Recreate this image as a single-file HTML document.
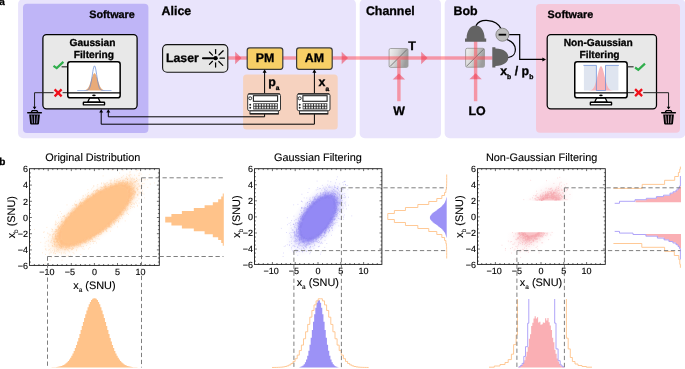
<!DOCTYPE html>
<html><head><meta charset="utf-8"><title>Figure</title><style>html,body{margin:0;padding:0;background:#fff;overflow:hidden}svg{display:block}</style></head><body>
<svg width="685" height="369" viewBox="0 0 685 369" font-family="Liberation Sans, Arial, Helvetica, sans-serif" text-rendering="geometricPrecision">
<defs>
<linearGradient id="bsg" x1="0" y1="0" x2="1" y2="0.3"><stop offset="0" stop-color="#f2f2f2"/><stop offset="0.45" stop-color="#d6d6d6"/><stop offset="1" stop-color="#9c9c9c"/></linearGradient>
</defs>
<rect width="685" height="369" fill="#fff"/>
<rect x="18.10" y="-1.00" width="337.80" height="139.30" rx="5" ry="5" fill="#e9e4fc" />
<rect x="359.70" y="-1.00" width="81.30" height="139.30" rx="5" ry="5" fill="#e9e4fc" />
<rect x="444.70" y="-1.00" width="240.60" height="139.30" rx="5" ry="5" fill="#e9e4fc" />
<rect x="23.00" y="3.80" width="125.40" height="129.10" rx="4" ry="4" fill="#bfb5f7" />
<rect x="536.00" y="3.90" width="144.00" height="128.90" rx="4" ry="4" fill="#f5c8da" />
<rect x="243.10" y="74.50" width="94.60" height="55.10" rx="3.5" ry="3.5" fill="#f6d2bf" />
<text x="-0.80" y="5.30" font-size="10" font-weight="bold" stroke="#000" stroke-width="0.3" text-anchor="start" fill="#000" >a</text>
<text x="-0.80" y="165.00" font-size="10" font-weight="bold" stroke="#000" stroke-width="0.3" text-anchor="start" fill="#000" >b</text>
<text x="161.60" y="15.40" font-size="12.4" font-weight="bold" stroke="#000" stroke-width="0.3" text-anchor="start" fill="#000" >Alice</text>
<text x="365.90" y="15.40" font-size="12.4" font-weight="bold" stroke="#000" stroke-width="0.3" text-anchor="start" fill="#000" >Channel</text>
<text x="453.60" y="15.40" font-size="12.4" font-weight="bold" stroke="#000" stroke-width="0.3" text-anchor="start" fill="#000" >Bob</text>
<text x="89.20" y="18.20" font-size="10.8" font-weight="bold" stroke="#000" stroke-width="0.3" text-anchor="start" fill="#000" >Software</text>
<text x="547.60" y="18.00" font-size="10.8" font-weight="bold" stroke="#000" stroke-width="0.3" text-anchor="start" fill="#000" >Software</text>
<rect x="389.1" y="48.5" width="18.9" height="18.9" rx="1.6" fill="url(#bsg)" stroke="#9c9c9c" stroke-width="0.9"/>
<line x1="390.0" y1="66.5" x2="407.1" y2="49.4" stroke="#666" stroke-width="0.8"/>
<rect x="465.6" y="48.3" width="18.9" height="18.9" rx="1.6" fill="url(#bsg)" stroke="#9c9c9c" stroke-width="0.9"/>
<line x1="466.5" y1="66.29999999999998" x2="483.6" y2="49.199999999999996" stroke="#666" stroke-width="0.8"/>
<rect x="227.9" y="56.3" width="264.6" height="3.4" fill="#ff4650" fill-opacity="0.5"/>
<path d="M235.2,51.8 L241.5,58.0 L235.2,64.2 Z" fill="#f03246" fill-opacity="0.52"/>
<path d="M341.7,51.8 L348.0,58.0 L341.7,64.2 Z" fill="#f03246" fill-opacity="0.52"/>
<path d="M421.2,51.8 L427.5,58.0 L421.2,64.2 Z" fill="#f03246" fill-opacity="0.52"/>
<rect x="397.2" y="59.7" width="3.4" height="41.5" fill="#ff4650" fill-opacity="0.5"/>
<path d="M392.7,79.4 L398.9,73.5 L405.09999999999997,79.4 Z" fill="#f03246" fill-opacity="0.52"/>
<rect x="473.90000000000003" y="41" width="3.4" height="15.299999999999997" fill="#ff4650" fill-opacity="0.5"/>
<rect x="473.90000000000003" y="59.7" width="3.4" height="41.5" fill="#ff4650" fill-opacity="0.5"/>
<path d="M469.40000000000003,79.2 L475.6,73.3 L481.8,79.2 Z" fill="#f03246" fill-opacity="0.52"/>
<rect x="42.90" y="34.70" width="94.20" height="74.10" rx="3.5" ry="3.5" fill="#e8e8e8" stroke="#000" stroke-width="1.25" />
<rect x="547.20" y="34.70" width="109.30" height="74.10" rx="3.5" ry="3.5" fill="#e8e8e8" stroke="#000" stroke-width="1.25" />
<rect x="162.60" y="44.60" width="65.20" height="27.70" rx="4.5" ry="4.5" fill="#e6e6e6" stroke="#111" stroke-width="1.1" />
<text x="166.00" y="62.20" font-size="12.3" font-weight="bold" stroke="#000" stroke-width="0.3" text-anchor="start" fill="#000" >Laser</text>
<g stroke="#000" stroke-linecap="round" fill="none">
<line x1="203.0" y1="58.2" x2="215.6" y2="58.2" stroke-width="2.1"/>
<line x1="220.00" y1="58.20" x2="224.40" y2="58.20" stroke-width="1.25"/>
<line x1="218.85" y1="54.95" x2="223.10" y2="50.70" stroke-width="1.25"/>
<line x1="215.60" y1="53.60" x2="215.60" y2="49.50" stroke-width="1.25"/>
<line x1="212.49" y1="55.09" x2="209.45" y2="52.05" stroke-width="1.25"/>
<line x1="218.85" y1="61.45" x2="222.74" y2="65.34" stroke-width="1.25"/>
<line x1="215.60" y1="62.80" x2="215.60" y2="67.10" stroke-width="1.25"/>
<line x1="212.49" y1="61.31" x2="209.45" y2="64.35" stroke-width="1.25"/>
</g>
<circle cx="215.6" cy="58.2" r="2.15" fill="#000"/>
<rect x="247.20" y="47.90" width="35.60" height="21.40" rx="2.5" ry="2.5" fill="#f7cf66" stroke="#3a3a3a" stroke-width="1.2" />
<rect x="296.60" y="47.90" width="35.60" height="21.40" rx="2.5" ry="2.5" fill="#f7cf66" stroke="#3a3a3a" stroke-width="1.2" />
<text x="265.00" y="62.30" font-size="12.4" font-weight="bold" stroke="#000" stroke-width="0.3" text-anchor="middle" fill="#000" >PM</text>
<text x="314.40" y="62.30" font-size="12.4" font-weight="bold" stroke="#000" stroke-width="0.3" text-anchor="middle" fill="#000" >AM</text>
<line x1="264.6" y1="93.4" x2="264.6" y2="71.3" stroke="#000" stroke-width="1"/>
<path d="M262.6,72.7 L264.6,69.3 L266.6,72.7 Z" fill="#000"/>
<line x1="314.4" y1="93.4" x2="314.4" y2="71.3" stroke="#000" stroke-width="1"/>
<path d="M312.4,72.7 L314.4,69.3 L316.4,72.7 Z" fill="#000"/>
<text x="268.2" y="86.3" font-size="12.4" font-weight="bold" stroke="#000" stroke-width="0.3">p<tspan font-size="6.6" dy="4.1">a</tspan></text>
<text x="318.6" y="86.4" font-size="12.4" font-weight="bold" stroke="#000" stroke-width="0.3">x<tspan font-size="6.6" dy="4.1">a</tspan></text>
<g transform="translate(247.2,93.4)">
<path d="M2.8,17.4 L31.2,17.4 L31.2,20.3 L2.8,20.3 Z" fill="#fff" stroke="#222" stroke-width="0.9"/>
<line x1="2.4" y1="20.5" x2="31.6" y2="20.5" stroke="#111" stroke-width="1.2"/>
<rect x="0.5" y="0.5" width="32.8" height="16.8" rx="1.6" fill="#fff" stroke="#333" stroke-width="1"/>
<line x1="1.2" y1="0.5" x2="32.6" y2="0.5" stroke="#222" stroke-width="1.1"/>
<rect x="6.2" y="2.3" width="24.2" height="5.6" fill="#fff" stroke="#222" stroke-width="1.1"/>
<circle cx="3.0" cy="4.9" r="1.5" fill="#fff" stroke="#222" stroke-width="0.9"/>
<rect x="6" y="9.9" width="24.6" height="6.1" fill="#2a2a2a"/>
<rect x="6.55" y="10.50" width="1.75" height="1.9" fill="#e4e4e4"/>
<rect x="9.23" y="10.50" width="1.75" height="1.9" fill="#e4e4e4"/>
<rect x="11.91" y="10.50" width="1.75" height="1.9" fill="#e4e4e4"/>
<rect x="14.59" y="10.50" width="1.75" height="1.9" fill="#e4e4e4"/>
<rect x="17.27" y="10.50" width="1.75" height="1.9" fill="#e4e4e4"/>
<rect x="19.95" y="10.50" width="1.75" height="1.9" fill="#e4e4e4"/>
<rect x="22.63" y="10.50" width="1.75" height="1.9" fill="#e4e4e4"/>
<rect x="25.31" y="10.50" width="1.75" height="1.9" fill="#e4e4e4"/>
<rect x="27.99" y="10.50" width="1.75" height="1.9" fill="#e4e4e4"/>
<rect x="6.55" y="13.25" width="1.75" height="1.9" fill="#e4e4e4"/>
<rect x="9.23" y="13.25" width="1.75" height="1.9" fill="#e4e4e4"/>
<rect x="11.91" y="13.25" width="1.75" height="1.9" fill="#e4e4e4"/>
<rect x="14.59" y="13.25" width="1.75" height="1.9" fill="#e4e4e4"/>
<rect x="17.27" y="13.25" width="1.75" height="1.9" fill="#e4e4e4"/>
<rect x="19.95" y="13.25" width="1.75" height="1.9" fill="#e4e4e4"/>
<rect x="22.63" y="13.25" width="1.75" height="1.9" fill="#e4e4e4"/>
<rect x="25.31" y="13.25" width="1.75" height="1.9" fill="#e4e4e4"/>
<rect x="27.99" y="13.25" width="1.75" height="1.9" fill="#e4e4e4"/>
<circle cx="3.0" cy="11.3" r="0.95" fill="#222"/><circle cx="3.0" cy="14.3" r="0.95" fill="#222"/>
</g>
<g transform="translate(296.7,93.4)">
<path d="M2.8,17.4 L31.2,17.4 L31.2,20.3 L2.8,20.3 Z" fill="#fff" stroke="#222" stroke-width="0.9"/>
<line x1="2.4" y1="20.5" x2="31.6" y2="20.5" stroke="#111" stroke-width="1.2"/>
<rect x="0.5" y="0.5" width="32.8" height="16.8" rx="1.6" fill="#fff" stroke="#333" stroke-width="1"/>
<line x1="1.2" y1="0.5" x2="32.6" y2="0.5" stroke="#222" stroke-width="1.1"/>
<rect x="6.2" y="2.3" width="24.2" height="5.6" fill="#fff" stroke="#222" stroke-width="1.1"/>
<circle cx="3.0" cy="4.9" r="1.5" fill="#fff" stroke="#222" stroke-width="0.9"/>
<rect x="6" y="9.9" width="24.6" height="6.1" fill="#2a2a2a"/>
<rect x="6.55" y="10.50" width="1.75" height="1.9" fill="#e4e4e4"/>
<rect x="9.23" y="10.50" width="1.75" height="1.9" fill="#e4e4e4"/>
<rect x="11.91" y="10.50" width="1.75" height="1.9" fill="#e4e4e4"/>
<rect x="14.59" y="10.50" width="1.75" height="1.9" fill="#e4e4e4"/>
<rect x="17.27" y="10.50" width="1.75" height="1.9" fill="#e4e4e4"/>
<rect x="19.95" y="10.50" width="1.75" height="1.9" fill="#e4e4e4"/>
<rect x="22.63" y="10.50" width="1.75" height="1.9" fill="#e4e4e4"/>
<rect x="25.31" y="10.50" width="1.75" height="1.9" fill="#e4e4e4"/>
<rect x="27.99" y="10.50" width="1.75" height="1.9" fill="#e4e4e4"/>
<rect x="6.55" y="13.25" width="1.75" height="1.9" fill="#e4e4e4"/>
<rect x="9.23" y="13.25" width="1.75" height="1.9" fill="#e4e4e4"/>
<rect x="11.91" y="13.25" width="1.75" height="1.9" fill="#e4e4e4"/>
<rect x="14.59" y="13.25" width="1.75" height="1.9" fill="#e4e4e4"/>
<rect x="17.27" y="13.25" width="1.75" height="1.9" fill="#e4e4e4"/>
<rect x="19.95" y="13.25" width="1.75" height="1.9" fill="#e4e4e4"/>
<rect x="22.63" y="13.25" width="1.75" height="1.9" fill="#e4e4e4"/>
<rect x="25.31" y="13.25" width="1.75" height="1.9" fill="#e4e4e4"/>
<rect x="27.99" y="13.25" width="1.75" height="1.9" fill="#e4e4e4"/>
<circle cx="3.0" cy="11.3" r="0.95" fill="#222"/><circle cx="3.0" cy="14.3" r="0.95" fill="#222"/>
</g>
<g fill="none" stroke="#000" stroke-width="1">
<path d="M264.6,114.2 L264.6,116.8 L108.3,116.8 L108.3,111"/>
<path d="M314.4,114.2 L314.4,124.2 L101.2,124.2 L101.2,111"/>
</g>
<path d="M106.3,112.6 L108.3,109.2 L110.3,112.6 Z" fill="#000"/>
<path d="M99.2,112.6 L101.2,109.2 L103.2,112.6 Z" fill="#000"/>
<rect x="67.75" y="61.75" width="52.40" height="36.10" rx="2.4" ry="2.4" fill="#fff" stroke="#000" stroke-width="1.5" />
<line x1="67.5" y1="92.89999999999999" x2="120.4" y2="92.89999999999999" stroke="#000" stroke-width="1.3"/>
<ellipse cx="93.95" cy="95.39999999999999" rx="1.8" ry="0.8" fill="#000"/>
<path d="M89.55,98.19999999999999 L98.35000000000001,98.19999999999999 L100.25,102.19999999999999 L87.65,102.19999999999999 Z" fill="#fff" stroke="#000" stroke-width="1.2"/>
<rect x="83.35000000000001" y="102.19999999999999" width="21.2" height="2.7" rx="0.5" fill="#fff" stroke="#000" stroke-width="1.4"/>
<rect x="574.75" y="61.75" width="52.40" height="36.10" rx="2.4" ry="2.4" fill="#fff" stroke="#000" stroke-width="1.5" />
<line x1="574.5" y1="92.89999999999999" x2="627.4" y2="92.89999999999999" stroke="#000" stroke-width="1.3"/>
<ellipse cx="600.95" cy="95.39999999999999" rx="1.8" ry="0.8" fill="#000"/>
<path d="M596.5500000000001,98.19999999999999 L605.35,98.19999999999999 L607.25,102.19999999999999 L594.6500000000001,102.19999999999999 Z" fill="#fff" stroke="#000" stroke-width="1.2"/>
<rect x="590.35" y="102.19999999999999" width="21.2" height="2.7" rx="0.5" fill="#fff" stroke="#000" stroke-width="1.4"/>
<text x="92.50" y="45.70" font-size="10.2" font-weight="bold" stroke="#000" stroke-width="0.3" text-anchor="middle" fill="#000" >Gaussian</text>
<text x="93.90" y="57.80" font-size="10.2" font-weight="bold" stroke="#000" stroke-width="0.3" text-anchor="middle" fill="#000" >Filtering</text>
<text x="598.20" y="45.70" font-size="10.2" font-weight="bold" stroke="#000" stroke-width="0.3" text-anchor="middle" fill="#000" >Non-Gaussian</text>
<text x="599.50" y="57.80" font-size="10.2" font-weight="bold" stroke="#000" stroke-width="0.3" text-anchor="middle" fill="#000" >Filtering</text>
<path d="M83.00,90.46 L83.38,90.44 L83.77,90.41 L84.15,90.37 L84.53,90.32 L84.92,90.24 L85.30,90.14 L85.68,90.01 L86.07,89.84 L86.45,89.62 L86.83,89.34 L87.22,88.99 L87.60,88.56 L87.98,88.04 L88.37,87.42 L88.75,86.71 L89.13,85.89 L89.52,84.97 L89.90,83.95 L90.28,82.85 L90.67,81.69 L91.05,80.48 L91.43,79.27 L91.82,78.07 L92.20,76.93 L92.58,75.89 L92.97,74.97 L93.35,74.22 L93.73,73.66 L94.12,73.32 L94.50,73.20 L94.88,73.32 L95.27,73.66 L95.65,74.22 L96.03,74.97 L96.42,75.89 L96.80,76.93 L97.18,78.07 L97.57,79.27 L97.95,80.48 L98.33,81.69 L98.72,82.85 L99.10,83.95 L99.48,84.97 L99.87,85.89 L100.25,86.71 L100.63,87.42 L101.02,88.04 L101.40,88.56 L101.78,88.99 L102.17,89.34 L102.55,89.62 L102.93,89.84 L103.32,90.01 L103.70,90.14 L104.08,90.24 L104.47,90.32 L104.85,90.37 L105.23,90.41 L105.62,90.44 L106.00,90.46 Z" fill="#e8aa78"/>
<path d="M77.30,90.50 L77.68,90.50 L78.06,90.50 L78.44,90.50 L78.82,90.50 L79.19,90.50 L79.57,90.50 L79.95,90.50 L80.33,90.50 L80.71,90.50 L81.09,90.50 L81.47,90.50 L81.85,90.50 L82.23,90.50 L82.60,90.50 L82.98,90.50 L83.36,90.50 L83.74,90.50 L84.12,90.50 L84.50,90.50 L84.88,90.50 L85.26,90.49 L85.64,90.49 L86.01,90.47 L86.39,90.45 L86.77,90.41 L87.15,90.35 L87.53,90.25 L87.91,90.09 L88.29,89.86 L88.67,89.51 L89.05,89.02 L89.42,88.34 L89.80,87.44 L90.18,86.28 L90.56,84.82 L90.94,83.07 L91.32,81.05 L91.70,78.79 L92.08,76.38 L92.46,73.93 L92.83,71.57 L93.21,69.46 L93.59,67.74 L93.97,66.54 L94.35,65.95 L94.73,66.02 L95.11,66.74 L95.49,68.06 L95.87,69.88 L96.24,72.05 L96.62,74.44 L97.00,76.89 L97.38,79.27 L97.76,81.49 L98.14,83.46 L98.52,85.15 L98.90,86.54 L99.28,87.65 L99.65,88.50 L100.03,89.14 L100.41,89.60 L100.79,89.92 L101.17,90.13 L101.55,90.28 L101.93,90.37 L102.31,90.42 L102.69,90.46 L103.06,90.48 L103.44,90.49 L103.82,90.49 L104.20,90.50 L104.58,90.50 L104.96,90.50 L105.34,90.50 L105.72,90.50 L106.10,90.50 L106.47,90.50 L106.85,90.50 L107.23,90.50 L107.61,90.50 L107.99,90.50 L108.37,90.50 L108.75,90.50 L109.13,90.50 L109.51,90.50 L109.88,90.50 L110.26,90.50 L110.64,90.50 L111.02,90.50 L111.40,90.50" fill="none" stroke="#6088d6" stroke-width="0.7"/>
<rect x="583.9" y="65.4" width="12.5" height="25.1" fill="#dfe5f0"/>
<rect x="605.5" y="65.4" width="12.9" height="25.1" fill="#dfe5f0"/>
<path d="M585.00,90.50 L585.53,90.50 L586.07,90.50 L586.60,90.49 L587.13,90.49 L587.67,90.48 L588.20,90.47 L588.73,90.45 L589.27,90.41 L589.80,90.35 L590.33,90.27 L590.87,90.13 L591.40,89.93 L591.93,89.65 L592.47,89.25 L593.00,88.71 L593.53,87.99 L594.07,87.07 L594.60,85.92 L595.13,84.51 L595.67,82.86 L596.20,80.97 L596.73,78.89 L597.27,76.69 L597.80,74.44 L598.33,72.25 L598.87,70.24 L599.40,68.52 L599.93,67.21 L600.47,66.38 L601.00,66.10 L601.53,66.38 L602.07,67.21 L602.60,68.52 L603.13,70.24 L603.67,72.25 L604.20,74.44 L604.73,76.69 L605.27,78.89 L605.80,80.97 L606.33,82.86 L606.87,84.51 L607.40,85.92 L607.93,87.07 L608.47,87.99 L609.00,88.71 L609.53,89.25 L610.07,89.65 L610.60,89.93 L611.13,90.13 L611.67,90.27 L612.20,90.35 L612.73,90.41 L613.27,90.45 L613.80,90.47 L614.33,90.48 L614.87,90.49 L615.40,90.49 L615.93,90.50 L616.47,90.50 L617.00,90.50 Z" fill="#f8b4b9"/>
<path d="M583.4,65.4 L596.4,65.4 L596.4,90.5 L605.5,90.5 L605.5,65.4 L618.9,65.4" fill="none" stroke="#6088d6" stroke-width="0.7"/>
<line x1="61.6" y1="66.8" x2="67.2" y2="66.8" stroke="#333" stroke-width="1.2"/>
<path d="M53.50,65.80 L56.70,68.10 L63.40,61.90" fill="none" stroke="#2fae4c" stroke-width="2.2" stroke-linejoin="miter"/>
<path d="M67.2,92.7 L34.55,92.7 L34.55,107" fill="none" stroke="#222" stroke-width="1"/>
<path d="M32.7,106.7 L34.55,109.6 L36.4,106.7 Z" fill="#000"/>
<rect x="53.6" y="90" width="9" height="5.6" fill="#e8e8e8"/>
<path d="M54.6,89.4 L61.6,96.4 M61.6,89.4 L54.6,96.4" fill="none" stroke="#f0101a" stroke-width="2.3"/>
<line x1="627.7" y1="66.8" x2="633.6" y2="66.8" stroke="#333" stroke-width="1.2"/>
<path d="M635.10,67.50 L638.30,69.80 L645.00,63.60" fill="none" stroke="#2fae4c" stroke-width="2.2" stroke-linejoin="miter"/>
<path d="M627.7,92.7 L668.55,92.7 L668.55,107" fill="none" stroke="#222" stroke-width="1"/>
<path d="M666.7,106.7 L668.55,109.6 L670.4,106.7 Z" fill="#000"/>
<rect x="634.2" y="90" width="9" height="5.6" fill="#e8e8e8"/>
<path d="M635.1,89.1 L642.1,96.1 M642.1,89.1 L635.1,96.1" fill="none" stroke="#f0101a" stroke-width="2.3"/>
<g transform="translate(0.00,0)">
<path d="M31.3,112.2 L32.3,110.7 L36.8,110.7 L37.8,112.2" fill="none" stroke="#000" stroke-width="1.3"/>
<line x1="27.8" y1="112.7" x2="41.3" y2="112.7" stroke="#000" stroke-width="1.6" stroke-linecap="round"/>
<path d="M29.2,114.4 L39.9,114.4 L39.0,123.6 Q38.95,124.4 38.2,124.4 L30.9,124.4 Q30.15,124.4 30.1,123.6 Z" fill="#000"/>
<path d="M31.75,115.8 L32.3,122.9 M34.55,115.8 L34.55,122.9 M37.35,115.8 L36.8,122.9" stroke="#bfb5f7" stroke-width="0.95" stroke-opacity="0.8" stroke-linecap="round"/>
</g>
<g transform="translate(634.00,0)">
<path d="M31.3,112.2 L32.3,110.7 L36.8,110.7 L37.8,112.2" fill="none" stroke="#000" stroke-width="1.3"/>
<line x1="27.8" y1="112.7" x2="41.3" y2="112.7" stroke="#000" stroke-width="1.6" stroke-linecap="round"/>
<path d="M29.2,114.4 L39.9,114.4 L39.0,123.6 Q38.95,124.4 38.2,124.4 L30.9,124.4 Q30.15,124.4 30.1,123.6 Z" fill="#000"/>
<path d="M31.75,115.8 L32.3,122.9 M34.55,115.8 L34.55,122.9 M37.35,115.8 L36.8,122.9" stroke="#f5c8da" stroke-width="0.95" stroke-opacity="0.8" stroke-linecap="round"/>
</g>
<text x="408.30" y="50.30" font-size="12.4" font-weight="bold" stroke="#000" stroke-width="0.3" text-anchor="start" fill="#000" >T</text>
<text x="399.00" y="115.20" font-size="12.4" font-weight="bold" stroke="#000" stroke-width="0.3" text-anchor="middle" fill="#000" >W</text>
<text x="477.00" y="115.20" font-size="12.4" font-weight="bold" stroke="#000" stroke-width="0.3" text-anchor="middle" fill="#000" >LO</text>
<path d="M465,41.7 L465,38.6 L466.6,38.6 C466.6,21 484.6,21 484.6,38.6 L486.2,38.6 L486.2,41.7 Z" fill="#636363"/>
<path d="M492.3,67.5 L495.4,67.5 L495.4,66 C512.8,66 512.8,48.6 495.4,48.6 L495.4,47.2 L492.3,47.2 Z" fill="#636363"/>
<path d="M476,25.6 C480,18.2 496,18.6 501,28.6" fill="none" stroke="#000" stroke-width="1.25"/>
<path d="M506.5,39.5 C518,43 518,56 508.3,57.5" fill="none" stroke="#000" stroke-width="1.25"/>
<path d="M509,34.7 L519.7,34.7 L519.7,59.4 L543,59.4" fill="none" stroke="#000" stroke-width="1.2"/>
<path d="M542.4,57.4 L546,59.4 L542.4,61.4 Z" fill="#000"/>
<circle cx="502.4" cy="34.7" r="6.5" fill="#bdbdbd" stroke="#8a8a8a" stroke-width="1"/>
<line x1="498.6" y1="34.7" x2="506.2" y2="34.7" stroke="#000" stroke-width="1.8"/>
<text x="500.2" y="75" font-size="12.4" font-weight="bold" stroke="#000" stroke-width="0.3">x<tspan font-size="6.8" dy="3.6">b</tspan><tspan dy="-3.6"> / p</tspan><tspan font-size="6.8" dy="3.6">b</tspan></text>
<radialGradient id="gO"><stop offset="0" stop-color="#ffc38a" stop-opacity="1.000"/><stop offset="0.609" stop-color="#ffc38a" stop-opacity="1.000"/><stop offset="0.652" stop-color="#ffc38a" stop-opacity="0.900"/><stop offset="0.696" stop-color="#ffc38a" stop-opacity="0.700"/><stop offset="0.739" stop-color="#ffc38a" stop-opacity="0.450"/><stop offset="0.783" stop-color="#ffc38a" stop-opacity="0.270"/><stop offset="0.826" stop-color="#ffc38a" stop-opacity="0.140"/><stop offset="0.870" stop-color="#ffc38a" stop-opacity="0.060"/><stop offset="0.935" stop-color="#ffc38a" stop-opacity="0.020"/><stop offset="1.000" stop-color="#ffc38a" stop-opacity="0.000"/></radialGradient>
<g transform="translate(94.6,215.0) rotate(-38.15)"><ellipse rx="65.71" ry="24.31" fill="url(#gO)"/></g>
<path d="M58.0,236.0h0M54.8,251.9h0M58.7,232.1h0M60.3,240.5h0M94.1,194.1h0M92.8,235.2h0M97.8,194.0h0M133.9,190.0h0M139.8,173.0h0M59.6,227.7h0M128.9,189.9h0M131.9,193.6h0M106.1,226.1h0M64.6,243.0h0M105.4,188.9h0M63.7,222.7h0M67.1,218.4h0M98.5,232.8h0M72.7,208.9h0M108.9,224.2h0M129.8,196.1h0M69.7,248.2h0M71.6,249.0h0M110.1,180.3h0M112.1,220.3h0M54.9,251.0h0M63.9,256.8h0M64.8,224.0h0M101.0,233.2h0M86.5,238.6h0M83.4,195.9h0M105.0,226.7h0M129.1,195.2h0M122.2,214.5h0M63.7,246.3h0M81.0,205.6h0M66.3,221.5h0M69.9,243.9h0M100.2,230.7h0M97.2,186.1h0M113.7,186.4h0M74.0,243.6h0M59.7,223.4h0M127.1,188.1h0M102.7,228.9h0M86.0,242.3h0M129.7,196.5h0M61.0,231.5h0M61.4,229.0h0M64.3,244.9h0M50.1,252.8h0M111.1,185.9h0M121.7,210.3h0M101.0,186.7h0M116.4,216.8h0M126.3,181.7h0M123.7,185.9h0M54.1,231.7h0M128.7,201.0h0M124.5,187.0h0M75.6,210.5h0M101.0,191.8h0M95.0,235.8h0M78.8,207.7h0M108.6,223.6h0M107.9,187.2h0M98.2,233.8h0M118.9,220.6h0M100.1,230.2h0M131.2,194.1h0M78.9,242.1h0M127.0,205.6h0M115.1,185.8h0M55.5,221.2h0M56.5,233.5h0M129.4,192.1h0M117.3,186.6h0M128.9,182.8h0M65.8,222.8h0M80.0,205.4h0M129.0,187.9h0M60.1,236.5h0M119.1,182.3h0M72.9,210.0h0M122.7,181.0h0M71.6,214.0h0M114.9,180.7h0M93.6,195.5h0M52.5,237.2h0M74.6,245.6h0M59.6,228.7h0M65.9,222.3h0M123.0,170.7h0M72.5,247.1h0M55.7,234.4h0M104.5,189.3h0M85.0,202.7h0M62.4,228.6h0M109.3,224.6h0M57.0,244.9h0M121.8,183.1h0M129.3,189.2h0M70.7,215.3h0M119.5,213.1h0M61.3,219.6h0M115.6,185.3h0M68.6,217.6h0M68.1,244.3h0M122.7,180.8h0M71.5,249.7h0M89.5,239.0h0M61.4,241.5h0M108.5,184.4h0M127.3,182.3h0M119.9,213.0h0M99.2,232.3h0M70.6,244.2h0M58.1,244.5h0M104.4,189.9h0M51.5,257.6h0M129.0,191.9h0M137.7,187.5h0M55.6,235.9h0M93.8,195.8h0M123.4,207.2h0M131.1,189.6h0M109.4,227.3h0M129.4,193.4h0M63.3,246.9h0M65.0,220.0h0M129.9,181.1h0M116.8,219.0h0M119.3,214.8h0M63.9,242.5h0M121.0,214.8h0M83.5,240.6h0M55.7,242.7h0M85.4,200.3h0M93.9,195.4h0M137.5,194.6h0M74.4,204.9h0M65.4,243.7h0M120.0,183.2h0M58.8,234.4h0M95.1,190.8h0M53.9,253.0h0M115.4,220.0h0M100.4,189.7h0M76.6,207.4h0M116.2,186.1h0M141.2,174.2h0M93.6,194.9h0M118.3,185.3h0M80.6,245.9h0M67.2,243.8h0M88.3,198.5h0M131.5,189.8h0M135.7,192.1h0M123.2,213.5h0M93.0,196.2h0M122.3,209.3h0M78.4,206.6h0M68.7,212.9h0M50.3,251.0h0M140.1,193.2h0M59.6,239.1h0M80.2,206.0h0M56.4,241.9h0M52.6,239.1h0M76.1,243.5h0M120.6,180.4h0M106.7,189.2h0M45.9,249.0h0M115.7,219.2h0M58.4,243.0h0M132.6,189.0h0M46.2,250.2h0M96.0,194.1h0M59.0,244.2h0M133.5,193.5h0M69.1,246.1h0M129.1,175.2h0M62.6,243.6h0M68.0,244.0h0M120.1,181.0h0M89.5,238.4h0M63.1,226.1h0M133.8,203.2h0M134.9,186.7h0M109.1,223.6h0M88.0,240.5h0M62.4,226.1h0M81.0,205.9h0M60.7,240.3h0M114.9,218.3h0M65.5,246.2h0M70.1,245.0h0M122.7,211.0h0M64.5,223.8h0M56.2,241.1h0M55.8,229.7h0M110.9,226.5h0M98.5,190.6h0M88.8,242.8h0M120.4,185.2h0M128.4,188.3h0M131.6,204.6h0M79.9,206.5h0M128.2,200.3h0M64.7,249.9h0M130.3,203.7h0M71.4,214.0h0M113.7,218.8h0M120.7,182.6h0M139.0,198.8h0M86.1,200.4h0M71.0,213.9h0M129.2,196.4h0M129.2,192.4h0M57.6,242.0h0M125.0,208.4h0M113.6,219.4h0M134.2,182.4h0M137.8,195.8h0M123.3,186.5h0M87.6,199.4h0M62.9,244.1h0M66.6,246.1h0M132.0,187.4h0M106.6,186.8h0M65.1,243.9h0M69.0,248.0h0M120.2,212.3h0M131.3,188.3h0M96.4,189.7h0M110.4,185.2h0M70.2,246.7h0M57.7,243.4h0M97.8,184.5h0M118.3,185.6h0M90.3,195.7h0M68.0,249.2h0M117.0,180.1h0M87.8,197.9h0M68.7,248.3h0M133.8,194.0h0M62.6,244.1h0M81.9,240.5h0M60.7,226.1h0M123.1,185.7h0M84.3,242.2h0M56.2,235.7h0M73.6,245.3h0M34.4,229.4h0M86.4,198.8h0M145.2,179.4h0M81.3,203.5h0M72.6,244.1h0M114.8,217.8h0M128.8,200.2h0M117.3,185.8h0M58.0,242.7h0M46.2,241.4h0M46.9,227.4h0M135.2,194.1h0M86.1,199.8h0M120.4,186.3h0M63.3,243.1h0M61.3,241.7h0M132.7,193.0h0M61.4,253.9h0M59.2,230.4h0M96.7,233.6h0M56.0,237.0h0M77.7,208.2h0M129.6,189.3h0M130.0,192.6h0M85.8,201.8h0M116.4,185.3h0M134.7,190.6h0M137.8,170.5h0M116.7,186.6h0M61.2,244.2h0M110.4,231.2h0M123.7,183.9h0M59.4,247.2h0M101.5,182.9h0M129.1,202.4h0M62.1,246.6h0M129.7,193.9h0M127.5,204.3h0M68.3,217.3h0M102.2,230.2h0M67.8,246.6h0M54.1,242.3h0M108.5,227.0h0M114.6,186.8h0M58.8,226.5h0M99.9,231.4h0M55.7,236.6h0M62.2,224.2h0M119.3,217.1h0M127.1,186.9h0M117.1,179.5h0M128.8,195.5h0M68.7,244.6h0M130.5,200.0h0M131.6,195.4h0M71.1,215.7h0M62.3,224.5h0M61.5,243.8h0M84.0,240.2h0M105.4,186.9h0M125.4,204.4h0M58.2,226.9h0M114.5,222.0h0M103.0,229.4h0M76.1,247.0h0M131.0,184.9h0M58.7,237.0h0M123.1,181.6h0M78.1,243.3h0M111.3,187.8h0M128.2,198.5h0M59.5,244.6h0M93.7,237.2h0M134.5,194.4h0M68.5,218.3h0M92.7,235.2h0M71.0,212.1h0M123.7,208.2h0M79.4,206.4h0M127.1,203.5h0M55.5,236.1h0M130.2,177.5h0M59.6,252.3h0M92.1,239.3h0M72.7,244.3h0M121.6,177.6h0M80.2,241.9h0M79.6,242.5h0M74.6,244.3h0M59.7,234.5h0M53.5,241.3h0M52.9,238.5h0M86.7,201.1h0M98.3,236.5h0M60.9,239.5h0M57.4,235.3h0M56.2,222.3h0M135.5,192.1h0M93.0,195.3h0M128.3,198.3h0M118.9,182.3h0M65.3,223.2h0M84.0,203.3h0M106.5,227.9h0M88.1,200.0h0M87.5,199.2h0M84.9,240.4h0M60.4,216.9h0M57.5,239.2h0M74.0,209.2h0M64.8,252.1h0M64.5,217.9h0M97.5,189.8h0M117.9,181.2h0M55.1,224.8h0M75.6,209.1h0M65.2,249.3h0M124.0,208.6h0M132.3,184.0h0M120.6,212.7h0M69.0,244.3h0M126.4,186.2h0M91.7,235.8h0M66.9,220.8h0M121.6,214.9h0M65.1,243.3h0M119.6,183.6h0M126.2,202.6h0M111.0,221.8h0M78.0,208.2h0M111.0,223.7h0M97.7,232.4h0M86.4,201.3h0M58.8,237.0h0M56.5,248.0h0M114.1,186.5h0M81.5,246.8h0M126.6,184.1h0M111.2,222.9h0M122.8,186.5h0M72.5,248.0h0M57.8,241.8h0M128.1,187.4h0M108.3,226.5h0M63.8,242.5h0M95.0,194.8h0M57.9,229.8h0M121.2,210.8h0M102.6,229.3h0M52.3,245.7h0M131.1,185.3h0M59.1,238.5h0M89.2,199.3h0M100.2,192.9h0M101.8,187.5h0M100.0,230.4h0M132.1,198.6h0M61.8,245.0h0M48.6,237.0h0M92.3,239.9h0M66.2,249.0h0M137.7,195.1h0M116.2,221.2h0M57.3,240.8h0M102.6,191.2h0M91.1,236.9h0M92.3,235.5h0M76.8,208.2h0M71.9,213.6h0M74.4,243.2h0M127.1,185.1h0M62.2,220.7h0M77.7,242.0h0M108.6,226.7h0M62.3,246.0h0M126.9,188.6h0M116.3,220.7h0M95.7,235.4h0M58.4,238.3h0M85.2,239.9h0M68.4,217.5h0M114.6,218.7h0M86.1,241.8h0M48.2,241.2h0M85.5,242.0h0M134.5,196.8h0M127.8,200.1h0M74.3,209.2h0M72.7,243.8h0M54.5,233.3h0M109.0,223.3h0M125.3,205.0h0M130.5,196.0h0M61.3,252.6h0M64.7,221.3h0M101.2,188.8h0M86.4,239.6h0M130.5,188.9h0M74.1,211.2h0M92.9,187.7h0M58.8,229.0h0M86.9,238.2h0M66.3,220.5h0M77.4,242.4h0M93.1,195.4h0M56.5,229.5h0M88.4,199.9h0M50.3,242.2h0M59.9,242.2h0M77.5,208.9h0M42.6,252.8h0M104.6,187.6h0M123.0,185.8h0M116.6,218.6h0M105.4,226.4h0M72.7,211.6h0M121.4,185.1h0M63.2,244.5h0M125.9,187.1h0M116.6,186.3h0M57.2,236.3h0M101.8,230.9h0M136.7,180.6h0M55.7,231.4h0M101.0,192.1h0M115.9,185.9h0M59.8,233.3h0M121.2,216.2h0M131.5,196.0h0M117.3,215.0h0M136.3,170.9h0M91.5,238.3h0M80.9,203.5h0M59.9,230.9h0M135.2,185.6h0M63.5,243.5h0M75.7,243.0h0M120.7,213.8h0M101.9,230.6h0M85.9,240.8h0M133.2,189.9h0M126.2,207.9h0M49.4,234.3h0M69.9,245.6h0M70.9,213.1h0M83.8,200.3h0M129.8,186.6h0M110.1,183.7h0M66.7,245.4h0M118.7,183.9h0M57.5,240.8h0M117.8,184.8h0M130.4,193.8h0M119.0,182.4h0M56.9,231.5h0M92.1,238.7h0M132.2,194.7h0M66.2,243.8h0M72.4,245.4h0M74.3,212.3h0M107.5,226.3h0M73.5,244.1h0M129.6,196.0h0M133.9,178.7h0M111.5,185.1h0M97.0,193.4h0M84.0,203.0h0M118.4,183.9h0M94.0,196.3h0M59.9,237.6h0M140.0,179.4h0M93.7,235.1h0M130.3,194.9h0M100.2,187.4h0M80.9,242.2h0M132.6,191.4h0M115.4,186.9h0M60.3,242.1h0M136.4,178.4h0M114.1,220.1h0M120.3,185.3h0M120.4,218.6h0M79.3,246.2h0M120.4,213.4h0M135.9,181.9h0M64.6,223.6h0M112.5,187.1h0M126.5,202.2h0M90.1,239.6h0M114.5,180.8h0M128.0,205.8h0M125.3,182.2h0M130.5,196.8h0M91.9,236.1h0M117.6,218.4h0M107.4,225.0h0M93.5,194.2h0M67.7,218.4h0M52.8,234.4h0M93.3,235.3h0M61.8,218.1h0M65.2,222.4h0M126.6,187.7h0M58.1,239.9h0M132.1,191.6h0M97.1,234.4h0M96.4,194.3h0M96.7,232.7h0M106.8,228.5h0M59.0,236.9h0M115.6,186.4h0M147.7,179.7h0M84.4,201.8h0M121.7,184.7h0M119.2,215.0h0M64.1,221.9h0M67.2,219.1h0M54.5,244.1h0M106.2,188.2h0M55.9,242.5h0M127.2,213.5h0M124.3,211.9h0M108.6,225.9h0M89.5,198.1h0M93.6,193.1h0M61.4,242.5h0M60.2,232.3h0M131.7,190.6h0M76.2,208.1h0M112.4,185.4h0M122.1,209.9h0M61.9,241.1h0M65.4,245.5h0M95.4,194.9h0M117.0,186.5h0M56.8,238.9h0M109.0,227.2h0M91.1,236.3h0M90.4,236.4h0M56.5,241.4h0M60.4,231.1h0M100.1,192.7h0M103.3,228.2h0M73.3,213.0h0M92.4,193.3h0M71.7,243.5h0M111.7,221.8h0M144.0,183.6h0M86.8,199.9h0M137.3,205.3h0M83.2,202.8h0M106.1,225.7h0M130.5,206.3h0M93.9,235.5h0M130.5,196.5h0M127.3,188.8h0M79.5,203.8h0M103.8,228.1h0M107.0,226.9h0M122.6,184.3h0M85.2,240.1h0M47.6,233.0h0M73.0,243.2h0M133.2,192.7h0M73.4,212.2h0M53.5,234.0h0M56.7,250.6h0M105.4,189.1h0M91.5,197.0h0M83.2,240.5h0M59.5,236.4h0M113.6,219.3h0M63.4,243.6h0M65.4,244.7h0M57.5,215.2h0M117.6,220.5h0M130.3,196.1h0M78.4,244.9h0M129.7,189.8h0M101.7,229.5h0M120.9,184.7h0M101.1,232.5h0M122.7,210.0h0M76.4,249.8h0M77.0,205.9h0M138.5,183.8h0M75.5,243.7h0M112.6,187.5h0M89.1,198.8h0M131.9,193.0h0M107.3,225.9h0M121.6,209.8h0M132.6,189.5h0M68.6,244.8h0M126.2,206.5h0M103.1,230.9h0M65.8,217.9h0M113.3,219.5h0M77.0,208.9h0M74.8,244.3h0M112.6,225.2h0M83.6,240.6h0M129.8,192.4h0M65.1,223.8h0M97.9,192.2h0M93.6,243.3h0M122.0,182.6h0M72.9,213.3h0M127.5,182.9h0M110.5,227.1h0M131.6,197.8h0M73.6,244.7h0M76.4,242.5h0M60.3,242.3h0M121.5,211.0h0M61.6,244.1h0M69.1,217.7h0M128.4,199.7h0M68.8,245.0h0M60.7,231.7h0M55.2,238.5h0M133.6,187.6h0M79.3,242.8h0M72.7,243.4h0M61.8,241.3h0M60.9,245.7h0M103.9,228.3h0M83.6,239.8h0M51.2,239.0h0M69.2,217.2h0M63.4,243.4h0M126.9,183.4h0M59.2,233.3h0M87.7,193.9h0M60.4,226.6h0M69.5,245.3h0M102.3,191.0h0M72.1,249.5h0M139.1,186.1h0M60.8,240.7h0M80.3,242.0h0M134.5,207.1h0M108.9,223.8h0M109.1,226.0h0M60.4,236.5h0M107.1,226.1h0M65.3,220.8h0M61.6,225.7h0M103.1,189.4h0M82.8,248.7h0M114.2,186.1h0M77.5,208.3h0M69.8,213.6h0M103.5,183.1h0M63.6,225.4h0M57.8,235.6h0M96.7,233.6h0M54.5,241.6h0M104.6,227.4h0M118.7,214.6h0M127.2,204.7h0M128.7,196.5h0M76.0,210.5h0M65.7,243.7h0M57.3,247.1h0M109.7,188.2h0M137.5,189.4h0M60.1,241.1h0M71.0,248.3h0M105.2,229.4h0M86.7,241.3h0M86.6,200.7h0M103.4,186.7h0M67.8,246.5h0M59.8,226.5h0M96.2,190.9h0M77.5,242.4h0M109.8,225.3h0M129.0,189.7h0M124.8,183.4h0M136.5,203.2h0M67.0,247.6h0M71.6,246.4h0M137.7,179.3h0M77.7,209.0h0M129.3,193.0h0M80.7,205.6h0M144.5,197.9h0M130.3,190.4h0M59.8,244.6h0M91.4,236.9h0M105.8,186.2h0M74.3,243.9h0M87.5,198.7h0M65.9,256.4h0M55.3,239.4h0M127.6,207.9h0M127.0,202.1h0M107.0,231.6h0M127.6,203.7h0M130.0,189.7h0M125.4,207.9h0M99.7,232.9h0M62.0,242.9h0M102.6,229.5h0M128.8,195.9h0M90.7,241.5h0M117.0,215.5h0M130.0,186.8h0M110.0,187.9h0M69.3,245.7h0M70.1,248.7h0M60.2,235.9h0M60.4,226.3h0M122.6,185.4h0M135.3,182.2h0M103.4,189.8h0M121.7,214.1h0M119.0,213.0h0M128.7,197.2h0M85.3,201.6h0M59.5,240.8h0M112.0,220.4h0M141.5,180.0h0M98.1,192.2h0M79.6,203.3h0M96.4,193.8h0M87.5,196.7h0M144.0,194.1h0M65.2,253.7h0M105.5,229.1h0M138.8,184.1h0M110.3,224.3h0M78.3,243.1h0M98.4,191.3h0M64.4,222.8h0M98.2,232.6h0M87.2,243.7h0M86.0,238.9h0M114.7,221.5h0M54.5,239.9h0M121.0,214.5h0M122.9,208.3h0M67.4,245.1h0M61.6,240.6h0M88.6,238.6h0M125.9,184.0h0M112.6,187.1h0M85.5,201.6h0M127.0,187.9h0M126.4,185.1h0M71.6,244.1h0M121.1,214.6h0M70.6,215.5h0M86.6,245.5h0M81.2,241.2h0M137.5,206.1h0M75.4,245.4h0M113.8,221.5h0M115.7,184.2h0M57.8,226.2h0M57.8,235.1h0M103.8,190.8h0M61.7,247.4h0M67.2,247.4h0M109.0,224.4h0M57.0,234.8h0M131.8,190.1h0M63.2,246.9h0M58.4,231.2h0M130.4,208.3h0M129.6,186.6h0M90.1,239.7h0M132.1,184.0h0M110.6,186.9h0M127.3,188.0h0M108.5,225.3h0M61.2,221.7h0M104.5,183.9h0M54.4,244.9h0M150.2,184.1h0M73.1,207.9h0M97.3,193.8h0M57.8,239.1h0M119.6,218.6h0M65.6,221.7h0M60.1,235.3h0M56.1,246.6h0M95.7,194.8h0M88.2,195.8h0M118.7,184.0h0M126.8,209.0h0M128.6,200.5h0M83.8,239.7h0M105.0,185.6h0M117.3,215.3h0M106.7,188.5h0M118.4,183.5h0M126.9,188.1h0M64.2,224.2h0M76.8,204.4h0M69.5,217.1h0M130.6,188.8h0M90.0,237.6h0M98.6,233.6h0M72.1,212.0h0M125.0,205.6h0M60.0,246.9h0M126.0,203.7h0M52.0,231.5h0M115.6,218.1h0M60.2,211.5h0M78.7,245.2h0M71.2,244.6h0M64.7,223.8h0M100.4,191.5h0M63.6,245.0h0M124.3,184.0h0M75.0,210.5h0M60.1,232.4h0M111.3,187.2h0M107.6,188.6h0M61.6,247.2h0M69.4,251.9h0M57.0,230.9h0M131.1,194.6h0M97.7,233.1h0M125.5,184.8h0M73.6,212.2h0M106.7,227.9h0M125.7,206.0h0M106.4,231.0h0M84.1,240.9h0M108.8,184.6h0M56.5,238.7h0M115.2,186.7h0M80.2,241.4h0M78.8,206.9h0M82.8,242.9h0M131.0,178.6h0M65.4,223.3h0M79.6,243.0h0M89.7,238.2h0M58.4,229.7h0M139.5,175.6h0M62.0,260.1h0M61.6,221.5h0M132.3,185.1h0M64.7,243.2h0M66.7,219.5h0M127.8,187.7h0M78.6,242.3h0M74.2,243.4h0M133.5,196.0h0M66.8,220.6h0M82.0,202.8h0M98.2,193.3h0M89.9,196.1h0M63.8,243.1h0M108.1,189.2h0M122.2,177.0h0M82.8,240.2h0M57.2,239.9h0M93.3,196.7h0M59.9,241.3h0M60.2,233.8h0M128.1,199.2h0M94.8,235.4h0M106.7,228.8h0M131.0,193.4h0M65.2,244.1h0M62.2,245.9h0M134.1,198.8h0M127.3,209.4h0M45.6,249.1h0M61.4,227.5h0M131.9,180.1h0M130.3,188.4h0M99.7,192.7h0M74.8,208.2h0M59.8,238.4h0M126.1,202.9h0M126.0,186.0h0M107.2,187.0h0M70.9,243.6h0M102.0,229.0h0M119.0,186.1h0M60.9,242.9h0M115.7,183.9h0M48.2,240.3h0M118.1,184.4h0M93.6,235.7h0M103.7,230.8h0M67.6,245.2h0M80.2,242.8h0M64.2,245.3h0M103.3,191.2h0M60.3,238.5h0M71.6,245.8h0M127.9,200.7h0M90.2,237.6h0M109.2,224.6h0M57.0,246.3h0M72.5,243.2h0M142.1,179.0h0M127.5,183.8h0M60.4,229.8h0M93.2,235.8h0M57.8,232.2h0M60.3,242.2h0M85.0,201.1h0M127.5,200.1h0M100.1,230.9h0M64.6,249.2h0M68.0,250.1h0M71.0,215.0h0M126.7,187.8h0M85.9,243.0h0M100.1,192.0h0M61.1,223.0h0M87.8,200.6h0M64.4,224.8h0M122.4,183.6h0M132.8,188.1h0M82.5,198.1h0M131.4,186.9h0M66.6,248.2h0M130.8,184.2h0M138.7,192.0h0M62.3,248.9h0M74.6,246.7h0M66.0,245.6h0M89.2,237.3h0M134.0,194.0h0M103.0,191.1h0M55.7,238.9h0M125.7,204.1h0M124.7,185.5h0M121.7,183.6h0M70.5,244.2h0M104.9,188.7h0M111.1,187.8h0M131.4,190.2h0M76.4,243.9h0M123.6,182.5h0M71.8,213.1h0M90.9,197.4h0M83.3,204.0h0M60.8,231.3h0M83.5,240.4h0M82.8,240.5h0M57.0,241.8h0M58.9,233.7h0M78.3,246.7h0M59.7,245.1h0M84.1,249.2h0M109.4,225.9h0M80.6,205.8h0M103.6,229.7h0M101.0,192.3h0M77.4,208.1h0M61.7,226.7h0M128.8,184.8h0M56.8,251.7h0M109.0,224.8h0M132.3,199.3h0M106.2,189.1h0M75.0,211.7h0M56.8,237.8h0M122.8,209.7h0M85.7,195.0h0M133.6,198.0h0M113.5,223.2h0M59.5,238.2h0M128.6,203.4h0M55.3,234.4h0M126.6,178.2h0M78.1,245.0h0M72.8,205.5h0M108.3,188.3h0M102.1,231.9h0M129.6,190.1h0M104.3,229.0h0M103.9,228.2h0M62.3,242.3h0M96.8,233.2h0M59.9,241.1h0M126.9,210.5h0M110.2,183.3h0M56.3,239.1h0M54.8,241.3h0M121.9,182.7h0M103.5,231.3h0M121.4,186.3h0M92.8,196.2h0M65.0,244.2h0M80.1,205.8h0M49.4,249.6h0M82.1,242.5h0M123.8,185.8h0M122.1,186.1h0M132.9,194.7h0M136.0,197.7h0M128.3,203.4h0M89.8,247.5h0M137.4,190.7h0M133.1,194.0h0M60.7,233.1h0M61.6,213.6h0M91.9,193.3h0M131.2,196.3h0M118.5,215.9h0M81.0,242.7h0M116.0,218.4h0M67.2,247.8h0M130.8,196.6h0M57.6,236.5h0M45.1,243.1h0M93.5,234.9h0M74.8,210.8h0M136.6,178.0h0M129.0,175.7h0M127.4,179.5h0M62.4,241.6h0M70.5,213.8h0M59.8,228.0h0M138.9,193.8h0M126.7,184.4h0M126.0,203.1h0M131.2,179.7h0M128.8,192.1h0M68.6,213.1h0M58.1,233.3h0M97.8,190.8h0M128.4,196.5h0M131.8,182.2h0M67.3,249.6h0M83.1,241.0h0M89.3,199.7h0M60.2,231.5h0M85.2,240.9h0M61.6,247.2h0M112.9,186.9h0M122.3,209.5h0M62.2,243.2h0M85.0,242.9h0M67.3,219.7h0M59.5,239.7h0M112.1,187.1h0M108.1,224.4h0M86.9,239.1h0M67.2,216.2h0M53.7,241.3h0M87.8,200.6h0M111.1,222.0h0M128.9,186.7h0M81.0,242.0h0M136.6,180.4h0M125.2,206.7h0M91.3,194.5h0M93.6,195.8h0M96.4,233.8h0M82.0,203.0h0M100.0,191.4h0M61.8,240.9h0M130.6,195.0h0M131.1,206.5h0M112.2,187.2h0M131.0,174.9h0M121.7,185.0h0M77.7,208.7h0M122.6,218.1h0M71.3,215.3h0M76.5,204.6h0M55.1,253.8h0M126.8,203.9h0M122.5,185.4h0M116.6,215.9h0M130.6,193.0h0M117.8,215.5h0M60.1,238.8h0M57.4,235.3h0M54.5,242.6h0M140.3,192.3h0M129.2,197.2h0M86.9,200.5h0M50.8,248.8h0M86.9,238.6h0M94.7,235.8h0M131.4,182.0h0M60.2,229.3h0M57.6,249.4h0M122.9,185.8h0M144.8,180.0h0M69.7,248.1h0M120.0,211.9h0M82.0,204.9h0M129.4,190.2h0M95.5,195.0h0M65.6,220.3h0M118.6,215.5h0M92.6,235.1h0M102.0,228.9h0M77.3,244.7h0M62.1,225.6h0M81.1,241.8h0M52.2,236.1h0M58.1,238.4h0M86.0,240.1h0M111.5,227.3h0M111.0,181.0h0M126.7,211.1h0M129.2,185.7h0M119.7,213.3h0M109.2,226.3h0M123.5,210.6h0M97.8,238.8h0M72.9,213.7h0M58.7,235.7h0M121.3,184.0h0M75.8,244.5h0M62.0,241.1h0M59.7,233.3h0M61.2,246.4h0M61.5,241.3h0M64.1,222.4h0M99.2,239.2h0M130.2,197.7h0M109.9,226.5h0M95.4,191.4h0M116.8,185.9h0M67.3,246.0h0M125.2,183.7h0M60.4,244.3h0M104.8,189.8h0M83.7,241.5h0M111.5,221.4h0M96.8,190.5h0M129.9,172.8h0M95.2,193.0h0M98.2,191.0h0M122.6,214.2h0M92.4,239.2h0M119.6,185.5h0M61.1,239.9h0M93.9,195.6h0M120.1,183.3h0M57.4,223.5h0M69.8,217.3h0M126.6,187.6h0M90.4,241.3h0M73.8,212.4h0M132.1,183.4h0M128.2,204.2h0M134.3,192.1h0M87.5,196.1h0M114.0,183.1h0M125.0,183.6h0M58.1,244.8h0M81.6,241.8h0M120.2,211.6h0M111.2,225.3h0M89.8,196.8h0M55.9,243.1h0M99.6,231.5h0M66.6,220.9h0M125.9,182.4h0M121.1,185.1h0M95.9,238.8h0M52.4,229.7h0M88.3,192.5h0M98.1,232.5h0M59.6,244.1h0M108.7,188.9h0M60.9,245.1h0M105.8,229.2h0M60.3,232.1h0M87.4,238.6h0M129.1,194.3h0M58.7,239.7h0M55.6,224.8h0M71.0,245.1h0M62.7,243.4h0M137.1,200.7h0M71.4,213.9h0M54.3,238.8h0M124.9,182.8h0M106.6,231.0h0M130.5,186.5h0M117.7,216.8h0M135.0,191.4h0M59.7,236.0h0M78.4,207.7h0M88.6,240.5h0M62.3,221.8h0M61.1,247.5h0M128.5,201.4h0M125.8,184.5h0M138.2,189.4h0M100.1,230.3h0M63.9,247.7h0M69.2,244.0h0M82.7,202.6h0M65.8,220.7h0M59.3,227.8h0M77.2,209.5h0M129.3,194.5h0M131.0,188.7h0M75.0,242.9h0M128.9,201.1h0M111.3,180.1h0M58.9,231.9h0M127.8,186.8h0M92.6,235.4h0M109.7,188.0h0M69.9,245.8h0M114.5,185.8h0M93.8,196.0h0M62.2,247.7h0M66.5,245.1h0M89.9,238.1h0M69.0,246.8h0M89.6,198.6h0M61.4,244.6h0M58.1,250.7h0M116.4,185.4h0M91.7,189.1h0M69.0,216.7h0M94.3,237.3h0M127.4,182.1h0M67.0,217.3h0M66.1,220.1h0M89.2,199.2h0M129.0,185.2h0M76.6,209.1h0M71.0,243.5h0M103.6,231.2h0M111.8,223.1h0M129.1,187.1h0M118.3,185.9h0M61.1,231.4h0M105.5,186.0h0M59.7,231.2h0M86.4,198.8h0M55.4,234.8h0M75.6,210.3h0M56.8,238.7h0M139.1,203.1h0M87.0,241.8h0M127.6,182.1h0M59.4,234.3h0M59.0,243.6h0M64.0,224.8h0M62.3,218.8h0M97.1,193.8h0M124.1,208.4h0M61.7,246.3h0M129.9,186.1h0M126.3,183.8h0M86.5,200.7h0M93.4,234.8h0M70.6,212.9h0M73.3,248.2h0M80.8,241.7h0M131.8,189.0h0M67.0,219.3h0M91.1,236.4h0M127.5,179.1h0M118.4,214.6h0M128.2,198.8h0M80.5,202.6h0M61.3,242.6h0M133.7,188.2h0M111.0,183.7h0M75.4,210.7h0M84.3,242.4h0M114.6,223.6h0M90.3,238.0h0M98.6,192.4h0M59.8,228.6h0M117.6,226.9h0M63.1,225.9h0M125.1,186.6h0M66.2,245.0h0M102.1,190.6h0M64.3,215.7h0M81.7,241.0h0M113.4,222.4h0M114.9,181.1h0M79.7,242.0h0M78.3,207.9h0M74.5,212.2h0M104.4,190.6h0M58.1,232.9h0M129.2,193.3h0M128.1,186.7h0M110.3,186.0h0M126.9,201.5h0M74.8,211.9h0M99.5,231.1h0M71.8,211.8h0M62.9,244.1h0M59.1,235.2h0M80.3,242.2h0M95.2,234.1h0M129.5,189.6h0M60.4,230.7h0M127.0,202.9h0M57.0,249.2h0M90.7,237.9h0M83.5,198.7h0M65.7,219.1h0M56.8,244.6h0M74.1,244.5h0M61.6,245.1h0M57.3,239.9h0M118.1,181.8h0M129.5,190.4h0M130.2,191.1h0M58.1,227.5h0M116.2,217.1h0M105.6,185.2h0M70.9,212.6h0M60.8,248.0h0M58.3,236.7h0M135.5,181.5h0M105.9,183.9h0M104.9,226.8h0M45.1,246.2h0M91.1,237.7h0M52.5,245.5h0M147.8,187.4h0M149.3,174.7h0M75.1,243.2h0M130.0,201.4h0M124.3,183.6h0M87.1,199.9h0M57.6,233.3h0M64.0,243.5h0M64.2,216.3h0M65.8,244.2h0M84.9,241.1h0M62.2,224.5h0M110.2,222.1h0M113.4,221.9h0M87.5,200.8h0M125.3,185.5h0M130.0,200.1h0M102.5,230.9h0M76.7,205.5h0M134.8,191.6h0M95.2,195.7h0M113.9,219.0h0M119.8,212.1h0M126.2,184.7h0M102.6,229.3h0M121.4,216.0h0M59.7,227.7h0M140.6,186.0h0M74.8,245.1h0M105.7,230.3h0M119.8,216.1h0M127.5,184.9h0M98.2,232.2h0M63.7,216.3h0M116.3,216.2h0M95.7,233.8h0M71.0,210.5h0M58.4,217.7h0M74.4,245.7h0M57.0,245.5h0M62.0,241.6h0M58.5,239.4h0M128.8,191.6h0M70.7,255.3h0M123.2,209.1h0M120.6,183.4h0M60.9,241.4h0M87.8,199.1h0M107.7,226.4h0M79.6,206.9h0M109.2,188.6h0M115.7,216.7h0M105.8,188.6h0M82.9,202.1h0M76.8,206.1h0M101.1,192.3h0M120.4,211.8h0M128.8,191.7h0M72.4,249.4h0M129.2,193.6h0M55.0,231.7h0M139.5,185.8h0M96.4,233.0h0M126.6,202.9h0M65.6,222.2h0M119.6,212.9h0M76.4,244.5h0M60.1,233.8h0M74.0,245.0h0M131.5,191.2h0M117.4,217.7h0M129.7,188.7h0M52.5,234.9h0M58.3,238.1h0M134.2,203.6h0M75.7,209.7h0M75.5,209.9h0M139.1,186.5h0M95.1,234.4h0M91.9,194.6h0M123.3,182.2h0M74.3,243.5h0M86.8,196.9h0M126.4,187.5h0M111.8,184.3h0M61.0,228.6h0M123.5,175.8h0M115.9,184.4h0M112.1,170.1h0M128.0,183.2h0M72.6,243.7h0M126.9,205.6h0M135.1,192.1h0M98.3,233.8h0M61.4,228.3h0M65.9,244.1h0M134.4,181.7h0M79.4,242.2h0M118.7,217.0h0M118.7,219.2h0M84.2,241.5h0M127.5,189.3h0M87.5,237.9h0M128.2,187.5h0M132.9,193.8h0M109.8,225.7h0M78.3,206.8h0M127.5,179.5h0M89.4,238.2h0M90.6,237.5h0M59.8,247.7h0M125.3,209.3h0M130.6,181.9h0M62.9,226.4h0M129.5,192.0h0M118.2,215.6h0M55.3,235.8h0M129.2,183.4h0M127.1,200.9h0M65.1,243.2h0M67.8,214.2h0M108.7,186.9h0M127.6,202.7h0M132.9,188.4h0M129.8,191.2h0M129.3,195.6h0M127.1,205.0h0M101.6,189.9h0M126.7,204.0h0M78.8,205.2h0M51.2,240.8h0M110.3,186.1h0M129.9,183.7h0M90.0,198.4h0M60.5,246.2h0M63.5,242.3h0M61.3,229.0h0M58.2,242.2h0M124.1,206.4h0M69.7,214.6h0M93.8,185.5h0M64.4,244.4h0M96.7,193.2h0M120.4,184.7h0M72.3,245.3h0M80.5,242.7h0M130.1,197.1h0M125.4,209.0h0M69.4,244.1h0M87.1,199.0h0M94.6,235.3h0M114.6,185.9h0M129.0,189.4h0M54.3,249.3h0M123.9,207.1h0M82.2,199.6h0M71.0,215.9h0M66.0,244.2h0M132.8,191.9h0M83.1,246.8h0M91.4,197.9h0M129.2,192.4h0M60.1,246.3h0M93.4,191.4h0M129.8,193.0h0M60.5,245.8h0M119.4,185.3h0M65.9,221.7h0M119.6,186.2h0M52.4,229.9h0M79.1,206.8h0M94.6,190.6h0M61.4,240.6h0M59.8,236.6h0M114.6,178.9h0M59.2,236.3h0M120.2,212.8h0M85.7,199.0h0M69.1,244.9h0M78.4,205.3h0M127.6,203.4h0M119.2,213.1h0M54.8,246.8h0M78.2,244.6h0M119.2,214.3h0M48.1,233.8h0M75.5,210.9h0M59.9,227.9h0M57.2,229.7h0M133.1,180.1h0M65.6,221.0h0M70.6,245.0h0M65.6,221.1h0M82.0,241.5h0M95.9,190.9h0M106.3,187.1h0M64.9,222.0h0M90.1,237.2h0M95.4,195.4h0M92.4,241.3h0M127.2,203.4h0M65.6,222.5h0M137.1,194.3h0M86.7,200.9h0M112.1,187.1h0M62.1,244.0h0M95.5,233.8h0M98.5,232.7h0M134.3,188.2h0M96.4,192.6h0M116.3,217.2h0M128.6,197.6h0M56.3,230.9h0M65.9,243.3h0M88.8,239.4h0M70.2,243.6h0M127.0,186.0h0M120.5,184.9h0M52.4,237.0h0M97.4,194.1h0M60.1,235.1h0M127.7,199.9h0M122.5,210.5h0M40.8,242.4h0M132.0,178.8h0M62.1,222.2h0M90.6,197.2h0M124.2,210.5h0M69.2,246.1h0M76.2,208.6h0M55.8,235.9h0M102.3,188.0h0M122.6,208.7h0M120.3,211.5h0M90.2,244.1h0M62.4,244.8h0M98.3,233.4h0M85.3,242.7h0M96.9,190.3h0M60.4,236.1h0M113.0,187.3h0M100.6,230.0h0M55.8,232.9h0M68.3,247.3h0M115.0,219.6h0M103.3,229.4h0M130.8,200.5h0M114.6,218.2h0M58.1,233.1h0M126.6,188.3h0M73.3,248.3h0M101.3,191.9h0M128.4,214.5h0M100.4,189.4h0M118.4,221.9h0M120.0,212.2h0M116.3,186.1h0M54.4,250.8h0M82.3,240.6h0M66.4,220.8h0M89.9,196.2h0M63.4,245.1h0M77.8,243.6h0M71.2,214.0h0M86.9,241.2h0M125.2,208.1h0M75.8,242.6h0M130.6,190.9h0M69.3,243.8h0M106.9,182.6h0M89.9,236.7h0M90.9,237.1h0M61.2,230.5h0M72.8,248.5h0M127.1,201.8h0M88.2,200.4h0M79.4,207.0h0M134.4,195.5h0M90.1,237.0h0M80.1,203.2h0M64.8,244.5h0M62.3,244.1h0M103.1,231.8h0M123.9,180.6h0M127.3,183.7h0M127.0,212.9h0M125.2,220.9h0M131.2,202.6h0M66.1,244.7h0M66.9,214.8h0M115.8,186.3h0M52.8,246.3h0M96.6,232.7h0M69.6,244.7h0M50.4,234.7h0M135.6,193.1h0M80.8,205.6h0M109.4,223.8h0M129.1,194.2h0M58.1,237.7h0M58.5,235.1h0M129.7,189.6h0M84.7,242.0h0M76.2,244.3h0M130.1,193.6h0M93.9,235.1h0M129.2,191.5h0M131.1,188.9h0M77.3,247.7h0M58.1,240.2h0M126.8,201.5h0M53.9,238.8h0M83.4,241.5h0M55.8,245.0h0M105.0,186.6h0M76.1,204.6h0M60.8,246.9h0M58.0,233.5h0M100.2,191.1h0M137.2,189.4h0M58.3,228.1h0M119.5,183.5h0M63.5,242.5h0M124.4,185.0h0M59.9,234.5h0M85.7,202.0h0M81.0,204.4h0M113.5,186.4h0M109.2,222.9h0M114.7,183.4h0M99.7,234.1h0M76.9,209.7h0M134.3,192.3h0M48.9,246.3h0M63.1,242.3h0M128.1,201.3h0M128.1,178.7h0M66.4,243.8h0M69.8,216.4h0M86.3,238.8h0M61.8,244.3h0M59.8,230.4h0M129.7,176.3h0M104.0,185.1h0M105.6,226.6h0M64.6,222.0h0M81.8,242.9h0M88.6,248.9h0M127.5,199.8h0M80.8,205.8h0M136.7,188.2h0M106.1,226.3h0M119.2,181.6h0M127.8,201.1h0M138.4,175.6h0M59.0,246.9h0M87.7,197.5h0M100.1,231.9h0M66.9,218.5h0M64.8,222.6h0M125.8,186.9h0M109.3,223.4h0M134.4,175.2h0M107.6,182.9h0M101.5,187.6h0M131.8,195.6h0M104.7,187.4h0M136.6,188.5h0M81.0,206.0h0M116.1,184.9h0M50.2,260.1h0M66.1,218.0h0M77.3,245.3h0M132.8,194.2h0M75.4,205.0h0M58.8,248.6h0M65.4,244.1h0M55.5,239.0h0M128.1,189.1h0M105.9,227.0h0M110.3,222.6h0M73.2,212.1h0M64.3,215.8h0M109.7,188.6h0M79.8,204.8h0M80.7,243.4h0M130.1,196.1h0M133.4,191.9h0M120.7,182.6h0M58.5,229.5h0M130.1,181.1h0M133.6,182.9h0M130.8,188.5h0M62.7,223.2h0M55.6,229.7h0M129.6,188.1h0M57.9,226.9h0M44.6,237.6h0M88.6,195.6h0M47.3,259.5h0M68.3,250.9h0M88.0,237.7h0M128.7,187.2h0M99.2,232.0h0M131.8,198.8h0M73.6,244.1h0M61.7,229.3h0M96.2,193.8h0M127.4,186.3h0M59.6,238.6h0M129.2,189.6h0M115.7,185.9h0M61.2,242.8h0M101.4,231.1h0M131.8,194.4h0M97.0,233.4h0M88.1,196.4h0M57.1,231.7h0M80.3,201.6h0M124.2,206.2h0M105.8,186.7h0M87.9,189.7h0M60.0,234.0h0M58.8,229.6h0M125.5,186.8h0M100.7,231.5h0M67.2,256.1h0M70.1,217.0h0M111.1,222.0h0M61.5,228.2h0M68.4,217.9h0M136.4,180.7h0M125.8,178.6h0M101.0,191.7h0M60.9,231.7h0M127.2,201.0h0M135.5,202.2h0M55.2,242.1h0M94.2,196.4h0M113.4,187.3h0M55.0,246.7h0M131.1,190.0h0M134.0,189.6h0M121.9,183.8h0M129.8,202.4h0M72.6,210.5h0M89.3,198.7h0M68.9,246.5h0M99.1,232.7h0M114.4,186.3h0M89.2,198.7h0M116.7,217.0h0M124.4,187.1h0M131.7,183.2h0M132.4,193.7h0M129.6,193.7h0M60.7,226.4h0M94.3,241.5h0M110.4,222.6h0M129.3,191.3h0M68.4,245.9h0M124.7,185.1h0M101.8,191.2h0M129.6,200.4h0M63.0,227.3h0M137.7,188.8h0M109.7,225.7h0M103.9,188.2h0M107.0,228.1h0M125.4,186.7h0M127.0,177.6h0M132.1,192.4h0M118.5,185.1h0M94.5,234.1h0M112.2,187.7h0M129.7,197.7h0M114.2,219.5h0M61.5,226.9h0M131.4,198.8h0M132.0,193.1h0M97.6,193.0h0M100.7,191.9h0M74.1,243.7h0M134.2,184.4h0M57.0,239.6h0M127.1,182.2h0M111.7,223.9h0M62.2,242.8h0M59.0,236.2h0M74.1,212.5h0M131.1,192.8h0M121.4,186.0h0M116.4,181.3h0M128.3,186.5h0M79.9,206.7h0M118.6,221.9h0M124.4,205.6h0M96.5,194.8h0M59.9,245.5h0M66.2,221.8h0M124.2,206.7h0M63.6,222.2h0M102.7,187.6h0M92.6,235.4h0M61.7,241.9h0M109.7,188.6h0M97.9,191.4h0M119.5,184.3h0M103.5,186.8h0M114.3,222.7h0M130.5,193.9h0M58.2,247.5h0M96.4,243.0h0M110.5,186.9h0M82.9,195.9h0M126.0,178.8h0M62.6,226.5h0M71.3,215.6h0M48.7,250.1h0M60.1,233.6h0M64.7,243.2h0M70.6,243.7h0M80.4,202.4h0M58.4,249.9h0M131.2,193.4h0M54.2,236.8h0M124.1,208.4h0M131.2,194.4h0M128.5,197.9h0M125.2,206.9h0M56.3,229.8h0M51.8,240.5h0M98.7,231.6h0M53.8,234.7h0M61.6,224.5h0M114.0,218.6h0M105.7,188.8h0M49.9,235.6h0M130.1,193.0h0M69.8,246.2h0M118.7,221.3h0M129.2,189.8h0M97.3,194.5h0M128.0,209.1h0M61.0,232.3h0M62.5,226.8h0M81.4,199.7h0M61.6,228.2h0M86.7,200.7h0M110.6,187.5h0M116.9,183.3h0M124.9,185.3h0M103.5,229.8h0M90.8,238.6h0M129.3,192.7h0M107.1,227.1h0M90.6,198.5h0M85.9,201.8h0M79.8,242.1h0M104.2,184.3h0M133.1,181.7h0M124.1,183.2h0M57.2,233.5h0M76.5,243.4h0M105.8,227.9h0M110.8,185.5h0M111.5,224.3h0M79.6,241.4h0M106.3,188.5h0M57.5,241.7h0M56.4,237.8h0M55.6,237.6h0M108.3,225.8h0M67.2,243.9h0M130.1,178.9h0M59.5,233.3h0M63.2,245.8h0M93.3,196.5h0M108.7,223.6h0M114.0,219.3h0M128.9,197.8h0M120.7,213.4h0M58.3,230.5h0M59.3,245.4h0M94.5,236.2h0M71.7,213.3h0M81.3,205.3h0M128.9,184.6h0M56.3,238.4h0M96.3,236.3h0M67.1,245.2h0M76.3,206.9h0M124.1,186.1h0M45.5,254.4h0M43.5,232.3h0M129.6,198.3h0M61.8,230.1h0M58.8,228.0h0M63.0,249.0h0M57.3,230.3h0M56.1,238.6h0M55.8,237.2h0M70.9,215.9h0M65.4,247.9h0M49.2,254.0h0M60.4,240.4h0M120.9,212.3h0M124.0,214.4h0M122.6,213.0h0M130.2,186.6h0M108.1,189.0h0M125.8,187.7h0M58.0,251.9h0M61.4,246.6h0M81.6,241.0h0M111.2,186.6h0M59.9,237.4h0M57.7,237.1h0M56.0,231.6h0M124.9,185.4h0M100.3,232.3h0M111.1,186.0h0M67.1,220.7h0M96.2,234.4h0M108.1,224.3h0M68.4,245.5h0M100.5,232.1h0M60.0,245.8h0M97.0,190.9h0M126.8,186.8h0M85.3,240.9h0M77.1,208.9h0M71.0,214.3h0M108.7,188.2h0M110.7,187.5h0M71.9,245.1h0M57.1,241.4h0M57.2,236.4h0M79.4,199.9h0M127.0,188.0h0M128.8,194.5h0M99.7,234.6h0M117.9,214.3h0M105.8,188.5h0M119.5,212.4h0M128.8,194.6h0M60.8,242.7h0M55.4,223.1h0M53.8,233.8h0M63.7,216.6h0M78.1,242.6h0M128.6,201.9h0M52.7,250.7h0M61.4,242.1h0M100.2,234.1h0M131.0,198.3h0M116.7,216.4h0M71.3,213.5h0M72.7,213.4h0M84.2,201.4h0M80.8,254.5h0M45.2,263.1h0M119.7,214.5h0M66.7,221.2h0M129.2,192.1h0M60.0,236.9h0M101.5,229.7h0M61.6,248.6h0M71.4,215.1h0M44.3,231.9h0M57.9,238.8h0M105.2,187.4h0M106.4,229.2h0M132.6,199.3h0M60.8,240.6h0M59.7,234.8h0M123.2,185.4h0M99.3,192.0h0M55.6,253.5h0M56.3,246.2h0M126.6,204.6h0M122.4,182.7h0M89.2,239.8h0M80.5,242.9h0M89.5,198.3h0M63.1,242.0h0M124.5,208.6h0M104.9,229.8h0M105.2,227.6h0M65.9,246.8h0M66.0,247.6h0M53.8,239.6h0M61.8,241.7h0M94.0,235.0h0M51.5,252.2h0M125.3,210.0h0M129.1,202.9h0M125.2,205.5h0M116.9,186.7h0M73.1,252.5h0M81.8,205.5h0M133.5,190.8h0M134.7,193.1h0M91.0,197.9h0M109.7,226.3h0M95.9,193.7h0M56.7,241.3h0M129.3,196.1h0M59.8,239.3h0M61.8,246.2h0M56.3,236.4h0M68.8,247.0h0M52.6,243.2h0M135.0,181.1h0M88.6,195.9h0M55.4,238.5h0M127.7,201.2h0M105.9,228.5h0M56.3,238.4h0M66.0,246.9h0M92.7,235.7h0M115.8,183.5h0M90.4,237.3h0M67.2,245.6h0M85.2,200.2h0M98.2,190.5h0M130.2,183.0h0M64.6,245.5h0M90.0,239.1h0M65.4,249.8h0M57.4,241.6h0M129.9,188.6h0M62.3,243.4h0M134.2,204.5h0M134.4,179.4h0M98.6,235.0h0M112.1,187.8h0M93.9,234.5h0M62.6,216.5h0M104.6,186.4h0M60.7,241.1h0M77.2,242.4h0M99.8,191.5h0M68.8,217.5h0M102.9,228.5h0M61.0,231.8h0M75.9,208.5h0M123.0,184.6h0M55.3,236.4h0M123.2,215.0h0M58.9,236.5h0M126.9,183.6h0M133.7,190.8h0M53.4,252.8h0M87.4,200.5h0M108.7,186.5h0M103.8,229.4h0M62.1,245.0h0M59.4,232.6h0M103.7,227.9h0M129.1,191.3h0M81.4,204.0h0M117.3,185.1h0M65.7,219.3h0M116.3,185.8h0M105.8,189.1h0M124.1,185.8h0M120.8,214.7h0M125.2,209.9h0M76.4,243.7h0M79.9,242.3h0M73.2,243.6h0M94.7,195.8h0M76.7,209.0h0M127.7,185.7h0M71.5,209.2h0M123.2,180.1h0M63.7,252.9h0M132.2,194.6h0M87.2,239.2h0M131.9,186.7h0M134.2,194.3h0M60.6,243.7h0M58.6,225.4h0M69.4,217.5h0M62.8,226.3h0M125.5,185.0h0M100.0,231.7h0M125.1,185.6h0M106.2,226.6h0M68.1,216.9h0M139.9,192.2h0M78.9,207.0h0M72.0,212.8h0M131.9,198.0h0M117.8,214.5h0M117.9,215.4h0M126.9,203.1h0M60.6,238.7h0M124.9,210.7h0M80.5,206.4h0M123.2,207.9h0M94.1,235.8h0M55.0,245.2h0M76.8,244.3h0M100.1,192.9h0M101.9,190.8h0M68.3,243.9h0M123.6,210.0h0M121.3,186.2h0M139.0,180.1h0M80.3,204.8h0M59.8,245.4h0M65.9,221.9h0M70.1,215.2h0M94.8,233.8h0M87.7,200.6h0M96.6,234.1h0M54.3,243.6h0M74.1,243.9h0M128.6,195.5h0M124.4,186.9h0M51.3,242.2h0M48.2,244.9h0M131.0,200.1h0M61.0,227.8h0M66.2,220.2h0M66.8,219.7h0M61.5,242.3h0M58.3,240.1h0M105.8,226.0h0M123.3,212.1h0M129.7,186.7h0M80.3,204.4h0M130.5,182.2h0M73.1,244.6h0M134.6,187.3h0M100.0,231.7h0M80.2,204.8h0M53.1,246.5h0M133.0,195.6h0M123.7,182.6h0M58.5,244.7h0M69.6,245.9h0M114.8,218.2h0M54.3,244.4h0M63.5,226.4h0M61.7,221.3h0M123.8,186.1h0M60.5,240.8h0M121.3,212.3h0M117.0,216.2h0M129.6,192.7h0M66.6,217.7h0M124.1,185.7h0M63.6,245.1h0M58.5,222.3h0M83.6,202.4h0M91.3,239.1h0M81.3,205.7h0M56.9,231.0h0M83.7,203.6h0M95.2,195.3h0M62.4,223.6h0M79.9,241.4h0M131.1,201.1h0M71.3,243.5h0M58.0,226.0h0M129.0,198.0h0M107.0,185.1h0M115.3,220.5h0M133.8,185.6h0M89.1,237.5h0M142.3,183.6h0M81.5,205.3h0M101.4,232.7h0M107.1,189.4h0M126.9,174.2h0M131.2,197.3h0M62.9,221.4h0M85.3,198.3h0M128.4,185.3h0M64.6,245.6h0M93.0,194.8h0M124.8,183.4h0M115.8,186.0h0M80.9,246.2h0M62.4,228.6h0M127.6,183.6h0M78.3,206.4h0M123.4,212.6h0M64.1,247.4h0M99.1,231.5h0M81.2,204.8h0M88.6,239.3h0M93.0,197.0h0M104.9,187.1h0M135.2,192.2h0M63.6,244.1h0M101.0,191.6h0M129.1,189.7h0M131.4,192.7h0M62.8,227.8h0M56.4,239.2h0M60.3,234.6h0M92.4,237.0h0M121.7,210.6h0M78.4,243.5h0M68.4,216.2h0M61.7,228.1h0M83.8,203.1h0M61.1,230.0h0M95.7,192.3h0M119.7,184.0h0M93.8,186.5h0M101.0,230.6h0M127.9,204.8h0M128.0,200.1h0M73.4,246.1h0M97.9,188.1h0M84.0,241.4h0M130.4,193.5h0M110.7,188.0h0M129.4,188.8h0M68.5,255.6h0M60.6,248.5h0M142.5,191.0h0M65.0,221.3h0M118.4,186.5h0M70.4,215.4h0M128.4,197.8h0M93.2,196.8h0M126.6,176.4h0M130.5,198.5h0M55.1,245.0h0M60.1,224.6h0M121.2,213.2h0M128.5,198.2h0M96.0,234.3h0M142.1,185.9h0M130.6,202.6h0M119.5,186.1h0M61.1,230.0h0M71.5,246.1h0M124.4,207.6h0M76.3,245.6h0M100.3,190.6h0M69.7,243.8h0M122.0,184.9h0M116.8,218.4h0M130.8,188.5h0M131.5,195.1h0M60.7,240.6h0M113.1,221.4h0M90.7,238.3h0M134.0,191.4h0M59.9,249.9h0M95.5,233.7h0M131.2,198.7h0M114.6,224.5h0M130.5,196.0h0M126.5,184.9h0M118.1,214.7h0M63.5,222.8h0M110.6,222.1h0M107.7,226.6h0M74.3,212.4h0M97.6,189.5h0M115.6,222.2h0M60.9,229.4h0M61.1,225.6h0M108.7,225.4h0M128.9,198.4h0M61.0,231.7h0M111.6,187.8h0M133.2,206.6h0M51.7,229.0h0M76.6,242.3h0M91.4,236.8h0M105.6,226.2h0M66.5,243.4h0M109.0,224.9h0M119.1,178.6h0M96.2,193.5h0M85.1,201.7h0M80.3,244.9h0M80.7,244.4h0M70.0,244.1h0M78.5,208.1h0M60.7,241.9h0M55.6,231.9h0M75.8,204.5h0M81.5,202.8h0M122.1,182.3h0M66.1,218.8h0M57.0,239.9h0M93.1,241.5h0M60.8,241.4h0M77.2,208.6h0M131.8,186.1h0M63.1,225.9h0M70.5,215.0h0M128.4,202.1h0M130.0,183.5h0M63.4,226.3h0M59.7,228.1h0M58.4,242.5h0M119.6,173.1h0M98.8,192.3h0M97.1,192.0h0M154.7,183.0h0M108.2,224.5h0M124.7,180.4h0M61.7,242.7h0M75.4,205.4h0M116.6,184.1h0M138.0,195.0h0M95.7,241.2h0M84.6,200.8h0M92.1,236.2h0M93.6,191.2h0M142.7,193.3h0M81.5,203.3h0M74.4,203.8h0M128.0,200.8h0M102.5,228.9h0M88.0,239.7h0M128.3,198.9h0M99.4,190.5h0M60.5,240.1h0M74.0,253.7h0M98.3,192.1h0M110.7,188.2h0M79.9,203.3h0M60.6,242.8h0M140.7,188.8h0M66.0,222.1h0M132.2,207.4h0M64.4,243.7h0M54.0,237.7h0M133.4,191.7h0M60.6,231.4h0M132.7,197.5h0M90.4,236.6h0M85.9,240.0h0M129.0,197.0h0M127.1,183.1h0M121.7,182.9h0M63.2,226.4h0M106.2,188.9h0M60.0,227.8h0M132.5,178.1h0M67.4,244.0h0M60.2,234.7h0M74.5,211.6h0M129.7,188.4h0M132.7,203.0h0M59.5,240.0h0M89.7,199.3h0M130.2,202.3h0M127.8,204.9h0M130.3,198.8h0M65.1,244.5h0M65.5,220.1h0M83.2,246.4h0M113.1,220.5h0M77.1,245.8h0M115.8,217.3h0M104.0,189.6h0M98.9,192.2h0M58.6,232.9h0M71.3,244.3h0M133.2,196.3h0M104.2,228.6h0M85.1,239.9h0M60.1,232.7h0M106.6,225.3h0M117.9,215.2h0M68.1,213.6h0M131.8,204.4h0M90.6,236.8h0M103.6,189.4h0M111.2,183.3h0M128.7,191.6h0M67.8,245.0h0M82.9,240.0h0M111.1,187.8h0M89.4,237.5h0M106.1,189.6h0M67.2,243.9h0M105.2,226.9h0M67.0,204.9h0M79.9,244.7h0M139.0,173.9h0M110.6,224.4h0M60.2,236.6h0M109.9,186.8h0M103.1,175.9h0M127.5,187.2h0M132.9,190.2h0M124.7,186.1h0M80.8,202.3h0M133.1,188.0h0M93.8,241.0h0M54.1,241.1h0M57.8,240.4h0M105.8,183.9h0M107.4,188.2h0M82.9,240.5h0M130.5,192.8h0M129.7,187.7h0M101.6,183.8h0M131.4,194.1h0M89.6,198.7h0M128.6,199.8h0M58.8,233.2h0M77.5,242.4h0M82.9,202.5h0M129.0,186.8h0M84.7,202.4h0M118.3,186.3h0M120.7,213.7h0M116.4,181.9h0M112.8,187.3h0M76.7,250.7h0M76.1,206.4h0M73.9,245.4h0M99.3,192.5h0M127.7,181.2h0M60.5,233.3h0M113.1,222.7h0M114.5,187.2h0M74.5,208.0h0M66.5,244.9h0M134.1,197.2h0M73.8,209.3h0M125.5,184.6h0M115.0,184.2h0M71.7,244.0h0M60.4,242.0h0M132.6,183.9h0M110.4,182.1h0M75.7,201.2h0M132.9,197.3h0M60.4,243.3h0M116.1,186.5h0M106.1,226.7h0M60.1,237.5h0M124.1,185.2h0M65.7,247.1h0M129.5,193.6h0M58.8,228.5h0M58.6,242.5h0M118.1,184.9h0M108.0,224.1h0M89.4,240.7h0M67.3,245.0h0M86.7,200.7h0M60.0,235.3h0M82.7,243.3h0M79.9,244.6h0M130.5,200.0h0M58.9,235.4h0M61.2,246.2h0M60.3,237.2h0M100.9,234.5h0M63.3,225.6h0M127.7,201.2h0M64.3,224.8h0M88.2,195.3h0M112.9,185.2h0M101.6,233.6h0M127.3,185.9h0M56.3,224.4h0M83.3,242.4h0M87.2,238.3h0M64.4,223.8h0M61.2,225.0h0M137.5,181.4h0M127.7,200.8h0M119.2,185.0h0M95.6,194.0h0M81.8,241.0h0M95.1,237.4h0M57.0,231.1h0M133.2,188.7h0M128.1,186.6h0M98.3,232.5h0M31.3,244.4h0M58.1,245.9h0M73.1,246.0h0M95.4,234.1h0M73.7,212.3h0M125.7,203.9h0M129.6,186.1h0M65.6,217.4h0M115.7,220.5h0M131.3,188.5h0M131.8,190.1h0M125.5,204.5h0M62.0,243.8h0M129.1,197.4h0M123.3,186.3h0M130.1,171.6h0M113.9,219.0h0M137.2,184.0h0M66.9,220.6h0M130.1,174.5h0M88.6,241.8h0M125.6,181.8h0M134.0,179.4h0M92.5,194.1h0M66.2,247.8h0" fill="none" stroke="#ffc38a" stroke-width="0.9" stroke-linecap="round" stroke-opacity="0.45"/>
<rect x="29.50" y="168.7" width="129.80" height="96.70" fill="none" stroke="#1a1a1a" stroke-width="0.9"/>
<path d="M34.34,265.4 v-1.4 M34.34,168.7 v1.4 M38.96,265.4 v-1.4 M38.96,168.7 v1.4 M43.58,265.4 v-1.4 M43.58,168.7 v1.4 M48.20,265.4 v-2.4 M48.20,168.7 v2.4 M52.82,265.4 v-1.4 M52.82,168.7 v1.4 M57.44,265.4 v-1.4 M57.44,168.7 v1.4 M62.06,265.4 v-1.4 M62.06,168.7 v1.4 M66.68,265.4 v-1.4 M66.68,168.7 v1.4 M71.30,265.4 v-2.4 M71.30,168.7 v2.4 M75.92,265.4 v-1.4 M75.92,168.7 v1.4 M80.54,265.4 v-1.4 M80.54,168.7 v1.4 M85.16,265.4 v-1.4 M85.16,168.7 v1.4 M89.78,265.4 v-1.4 M89.78,168.7 v1.4 M94.40,265.4 v-2.4 M94.40,168.7 v2.4 M99.02,265.4 v-1.4 M99.02,168.7 v1.4 M103.64,265.4 v-1.4 M103.64,168.7 v1.4 M108.26,265.4 v-1.4 M108.26,168.7 v1.4 M112.88,265.4 v-1.4 M112.88,168.7 v1.4 M117.50,265.4 v-2.4 M117.50,168.7 v2.4 M122.12,265.4 v-1.4 M122.12,168.7 v1.4 M126.74,265.4 v-1.4 M126.74,168.7 v1.4 M131.36,265.4 v-1.4 M131.36,168.7 v1.4 M135.98,265.4 v-1.4 M135.98,168.7 v1.4 M140.60,265.4 v-2.4 M140.60,168.7 v2.4 M145.22,265.4 v-1.4 M145.22,168.7 v1.4 M149.84,265.4 v-1.4 M149.84,168.7 v1.4 M154.46,265.4 v-1.4 M154.46,168.7 v1.4 M29.50,262.05 h1.4 M159.30,262.05 h-1.4 M29.50,258.00 h1.4 M159.30,258.00 h-1.4 M29.50,253.95 h1.4 M159.30,253.95 h-1.4 M29.50,249.90 h2.4 M159.30,249.90 h-2.4 M29.50,245.85 h1.4 M159.30,245.85 h-1.4 M29.50,241.80 h1.4 M159.30,241.80 h-1.4 M29.50,237.75 h1.4 M159.30,237.75 h-1.4 M29.50,233.70 h2.4 M159.30,233.70 h-2.4 M29.50,229.65 h1.4 M159.30,229.65 h-1.4 M29.50,225.60 h1.4 M159.30,225.60 h-1.4 M29.50,221.55 h1.4 M159.30,221.55 h-1.4 M29.50,217.50 h2.4 M159.30,217.50 h-2.4 M29.50,213.45 h1.4 M159.30,213.45 h-1.4 M29.50,209.40 h1.4 M159.30,209.40 h-1.4 M29.50,205.35 h1.4 M159.30,205.35 h-1.4 M29.50,201.30 h2.4 M159.30,201.30 h-2.4 M29.50,197.25 h1.4 M159.30,197.25 h-1.4 M29.50,193.20 h1.4 M159.30,193.20 h-1.4 M29.50,189.15 h1.4 M159.30,189.15 h-1.4 M29.50,185.10 h2.4 M159.30,185.10 h-2.4 M29.50,181.05 h1.4 M159.30,181.05 h-1.4 M29.50,177.00 h1.4 M159.30,177.00 h-1.4 M29.50,172.95 h1.4 M159.30,172.95 h-1.4" stroke="#111" stroke-width="0.6" fill="none"/>
<text x="46.90" y="275.00" font-size="9.0" stroke="#000" stroke-width="0.12" text-anchor="middle" fill="#000" >−10</text>
<text x="70.00" y="275.00" font-size="9.0" stroke="#000" stroke-width="0.12" text-anchor="middle" fill="#000" >−5</text>
<text x="94.40" y="275.00" font-size="9.0" stroke="#000" stroke-width="0.12" text-anchor="middle" fill="#000" >0</text>
<text x="117.50" y="275.00" font-size="9.0" stroke="#000" stroke-width="0.12" text-anchor="middle" fill="#000" >5</text>
<text x="140.60" y="275.00" font-size="9.0" stroke="#000" stroke-width="0.12" text-anchor="middle" fill="#000" >10</text>
<text x="28.00" y="269.30" font-size="9.0" stroke="#000" stroke-width="0.12" text-anchor="end" fill="#000" >−6</text>
<text x="28.00" y="253.10" font-size="9.0" stroke="#000" stroke-width="0.12" text-anchor="end" fill="#000" >−4</text>
<text x="28.00" y="236.90" font-size="9.0" stroke="#000" stroke-width="0.12" text-anchor="end" fill="#000" >−2</text>
<text x="28.00" y="220.70" font-size="9.0" stroke="#000" stroke-width="0.12" text-anchor="end" fill="#000" >0</text>
<text x="28.00" y="204.50" font-size="9.0" stroke="#000" stroke-width="0.12" text-anchor="end" fill="#000" >2</text>
<text x="28.00" y="188.30" font-size="9.0" stroke="#000" stroke-width="0.12" text-anchor="end" fill="#000" >4</text>
<text x="28.00" y="172.10" font-size="9.0" stroke="#000" stroke-width="0.12" text-anchor="end" fill="#000" >6</text>
<text x="92.80" y="160.60" font-size="10.9" stroke="#000" stroke-width="0.12" text-anchor="middle" fill="#000" >Original Distribution</text>
<text x="94.40" y="288.9" font-size="10.9" text-anchor="middle" stroke="#000" stroke-width="0.12">x<tspan font-size="6.4" dy="3.1">a</tspan><tspan dy="-3.1"> (SNU)</tspan></text>
<text transform="translate(14.50,217.20) rotate(-90)" font-size="10.9" text-anchor="middle" stroke="#000" stroke-width="0.12">x<tspan font-size="6.4" dy="3.1">b</tspan><tspan dy="-3.1"> (SNU)</tspan></text>
<radialGradient id="gP"><stop offset="0" stop-color="#9389f5" stop-opacity="1.000"/><stop offset="0.489" stop-color="#9389f5" stop-opacity="1.000"/><stop offset="0.543" stop-color="#9389f5" stop-opacity="0.900"/><stop offset="0.594" stop-color="#9389f5" stop-opacity="0.700"/><stop offset="0.638" stop-color="#9389f5" stop-opacity="0.480"/><stop offset="0.691" stop-color="#9389f5" stop-opacity="0.300"/><stop offset="0.745" stop-color="#9389f5" stop-opacity="0.170"/><stop offset="0.809" stop-color="#9389f5" stop-opacity="0.090"/><stop offset="0.894" stop-color="#9389f5" stop-opacity="0.040"/><stop offset="1.000" stop-color="#9389f5" stop-opacity="0.000"/></radialGradient>
<g transform="translate(317.6,218.0) rotate(-54.15)"><ellipse rx="45.04" ry="22.16" fill="url(#gP)"/></g>
<path d="M300.4,223.4h0M336.9,210.0h0M314.6,236.0h0M313.8,204.0h0M297.1,231.9h0M300.0,223.0h0M308.1,238.5h0M323.9,198.0h0M314.9,203.9h0M303.6,219.1h0M311.1,238.9h0M337.9,193.1h0M324.7,198.2h0M336.5,204.0h0M336.4,179.6h0M309.7,238.2h0M321.0,231.7h0M335.6,213.2h0M337.4,198.3h0M314.5,203.8h0M309.5,239.7h0M303.2,241.3h0M334.2,199.1h0M332.1,192.8h0M290.8,225.2h0M315.6,236.9h0M299.6,221.4h0M328.3,223.0h0M302.1,238.0h0M299.3,243.4h0M315.3,203.7h0M301.3,238.0h0M309.1,238.8h0M309.6,207.9h0M301.5,234.1h0M303.8,218.0h0M324.5,227.8h0M300.4,225.8h0M306.7,238.0h0M324.3,228.8h0M329.8,195.4h0M329.6,195.4h0M325.7,197.5h0M332.5,217.1h0M326.3,192.8h0M325.2,226.8h0M318.1,238.8h0M332.4,198.6h0M301.3,227.3h0M342.9,182.6h0M334.6,197.8h0M311.3,206.3h0M295.8,227.5h0M301.9,236.3h0M299.3,227.5h0M328.0,196.8h0M339.7,211.8h0M320.7,198.8h0M327.8,196.7h0M302.4,218.0h0M332.7,220.9h0M327.0,225.8h0M301.0,218.2h0M321.9,198.9h0M328.7,224.3h0M331.3,196.2h0M298.7,228.1h0M334.5,187.5h0M308.2,243.6h0M324.3,195.3h0M295.9,235.6h0M315.0,237.2h0M297.0,236.9h0M305.3,216.2h0M310.4,200.1h0M327.3,189.2h0M311.0,205.2h0M335.6,205.4h0M321.3,232.5h0M296.1,219.3h0M298.8,228.3h0M302.0,235.4h0M311.4,241.7h0M311.0,238.5h0M302.6,219.4h0M334.5,205.4h0M303.3,218.0h0M297.9,223.9h0M314.3,245.6h0M304.7,237.3h0M333.5,215.7h0M318.1,237.5h0M319.5,233.5h0M340.2,188.3h0M324.8,229.0h0M308.6,238.8h0M325.3,197.4h0M302.6,217.6h0M306.0,238.5h0M317.3,199.0h0M306.1,239.0h0M315.6,196.8h0M301.4,235.6h0M311.0,242.7h0M299.1,223.0h0M289.6,245.3h0M316.9,238.4h0M320.6,236.2h0M315.7,237.7h0M334.7,210.1h0M301.2,235.1h0M334.2,200.9h0M325.7,232.4h0M291.6,236.1h0M320.8,198.3h0M321.3,238.9h0M301.4,224.9h0M294.8,232.4h0M308.7,243.8h0M327.3,227.9h0M313.7,238.2h0M311.5,239.0h0M337.3,213.7h0M326.8,225.6h0M291.7,248.9h0M316.6,202.5h0M314.1,197.7h0M306.1,212.7h0M334.6,210.3h0M315.8,196.4h0M321.3,198.9h0M321.4,231.0h0M332.2,214.9h0M305.3,215.4h0M332.2,217.2h0M321.1,231.9h0M294.3,233.0h0M303.4,219.4h0M306.1,241.1h0M299.8,224.3h0M299.0,242.9h0M303.8,242.0h0M312.2,240.6h0M301.5,238.0h0M326.0,230.5h0M297.4,247.6h0M298.5,218.9h0M294.3,220.7h0M310.8,239.6h0M306.9,209.5h0M339.9,206.8h0M334.1,207.5h0M333.8,202.5h0M326.9,224.6h0M303.4,219.3h0M331.2,194.2h0M301.5,207.4h0M342.1,189.7h0M326.0,197.2h0M331.9,219.6h0M307.5,243.6h0M321.1,233.9h0M334.9,204.7h0M329.9,194.2h0M302.4,201.8h0M314.8,245.2h0M325.9,196.8h0M300.1,221.9h0M328.6,222.1h0M305.3,213.0h0M305.8,207.7h0M313.5,237.9h0M336.0,190.8h0M332.8,217.9h0M299.1,238.3h0M329.4,222.7h0M299.6,229.0h0M301.7,234.9h0M301.7,208.0h0M309.9,238.8h0M307.1,212.8h0M335.2,214.6h0M298.4,231.6h0M313.6,239.5h0M316.5,236.1h0M321.1,252.0h0M305.2,240.8h0M311.9,237.8h0M320.1,232.9h0M317.1,236.0h0M325.4,236.8h0M301.2,223.1h0M301.7,237.9h0M337.4,201.1h0M337.9,204.2h0M313.8,204.1h0M289.1,223.4h0M308.2,238.7h0M317.2,201.1h0M331.5,218.1h0M298.4,226.7h0M303.1,241.2h0M299.6,251.4h0M310.1,247.8h0M315.9,237.3h0M306.1,209.3h0M301.9,236.4h0M300.2,241.8h0M297.6,229.7h0M316.3,239.3h0M333.6,199.1h0M309.4,201.7h0M330.2,196.2h0M340.6,209.8h0M307.2,245.3h0M326.7,226.3h0M335.2,200.6h0M334.0,208.4h0M333.9,213.0h0M316.2,202.6h0M303.3,239.1h0M327.9,194.3h0M329.0,222.2h0M326.8,190.5h0M294.1,245.2h0M332.6,217.0h0M305.7,205.2h0M311.2,204.8h0M301.4,236.0h0M342.2,202.4h0M334.3,216.5h0M316.8,196.3h0M306.8,242.2h0M304.4,237.1h0M311.5,238.9h0M325.2,198.0h0M299.1,235.2h0M324.8,191.6h0M299.4,237.0h0M313.7,243.0h0M339.7,191.9h0M297.6,241.2h0M333.3,194.9h0M311.0,238.3h0M304.8,209.6h0M309.7,206.7h0M320.7,196.1h0M315.3,239.2h0M335.1,204.0h0M333.5,201.2h0M345.8,205.9h0M336.6,209.0h0M291.5,247.3h0M315.6,202.8h0M334.8,190.3h0M311.5,238.2h0M325.3,230.7h0M302.4,217.2h0M314.8,199.4h0M325.4,231.8h0M306.3,243.8h0M332.8,199.6h0M316.0,238.5h0M304.4,237.5h0M319.9,234.1h0M299.5,237.5h0M332.4,195.7h0M324.7,236.0h0M322.0,237.5h0M342.9,193.9h0M326.8,196.6h0M302.2,216.3h0M334.5,208.6h0M344.8,193.6h0M308.9,238.6h0M298.3,220.8h0M301.9,194.3h0M325.0,196.2h0M334.7,201.1h0M323.8,187.2h0M302.5,241.9h0M329.8,221.1h0M334.2,206.0h0M323.5,196.4h0M295.1,246.5h0M303.4,242.4h0M301.0,216.2h0M317.7,187.5h0M297.3,233.2h0M305.5,238.4h0M334.8,212.2h0M310.7,238.4h0M300.8,227.0h0M331.5,197.2h0M299.6,240.4h0M312.3,239.0h0M329.2,197.3h0M294.1,226.6h0M336.7,210.3h0M334.8,213.8h0M299.9,231.6h0M328.6,222.8h0M301.5,242.7h0M339.8,211.4h0M326.8,197.7h0M301.6,218.3h0M335.7,211.2h0M293.5,252.3h0M341.1,208.8h0M300.8,234.9h0M319.2,199.9h0M334.9,203.8h0M325.2,227.5h0M323.1,188.4h0M307.7,242.4h0M316.2,202.9h0M330.9,218.6h0M319.6,198.7h0M334.3,202.6h0M338.7,190.3h0M337.8,209.4h0M331.0,219.6h0M326.1,195.9h0M296.4,241.3h0M332.2,215.5h0M312.0,205.6h0M340.3,191.3h0M329.4,196.5h0M334.5,204.3h0M322.4,198.1h0M305.3,214.6h0M302.1,222.8h0M300.6,230.2h0M322.0,194.6h0M331.7,196.4h0M328.7,195.9h0M338.1,189.4h0M324.9,227.6h0M322.7,194.8h0M309.5,208.7h0M333.3,196.9h0M331.8,199.2h0M326.6,197.1h0M319.9,196.5h0M310.2,246.8h0M298.5,224.4h0M338.1,203.0h0M339.9,211.0h0M302.2,219.1h0M315.1,199.2h0M322.8,230.9h0M337.6,197.6h0M322.0,237.6h0M321.2,232.8h0M335.9,214.6h0M334.2,203.1h0M301.0,227.0h0M344.8,181.7h0M316.4,237.0h0M317.8,235.2h0M309.6,238.2h0M334.6,202.0h0M326.0,197.6h0M333.5,193.4h0M303.8,210.8h0M334.8,207.1h0M291.5,220.6h0M337.5,209.9h0M297.3,240.4h0M330.1,219.9h0M289.6,233.3h0M334.2,204.6h0M316.7,239.5h0M335.6,209.8h0M303.7,237.6h0M333.0,216.6h0M307.7,238.6h0M334.0,202.8h0M335.5,200.2h0M307.8,206.8h0M330.4,192.9h0M309.7,238.4h0M335.7,202.5h0M339.5,194.7h0M290.8,222.7h0M347.9,189.7h0M334.0,188.8h0M296.0,235.5h0M302.4,241.7h0M294.6,236.8h0M310.6,240.5h0M297.8,233.2h0M306.1,203.1h0M305.0,214.7h0M304.5,238.5h0M304.8,213.5h0M333.4,211.9h0M300.7,227.5h0M301.0,233.6h0M305.8,246.8h0M300.3,230.2h0M307.7,240.1h0M303.0,219.7h0M331.4,197.0h0M301.6,219.9h0M337.1,188.0h0M325.8,198.1h0M327.8,197.7h0M329.1,227.9h0M297.2,236.7h0M299.5,227.4h0M300.5,223.4h0M335.0,194.8h0M302.2,216.6h0M295.8,242.0h0M335.8,210.7h0M322.9,198.2h0M323.3,198.6h0M313.5,236.9h0M335.7,197.3h0M312.3,204.5h0M333.4,215.3h0M327.6,197.9h0M302.6,221.3h0M325.5,230.2h0M301.4,219.4h0M327.7,224.3h0M336.9,220.3h0M305.7,240.7h0M319.2,195.7h0M296.6,229.0h0M336.7,203.9h0M307.4,241.4h0M313.5,241.4h0M313.6,236.9h0M299.2,244.1h0M337.3,199.1h0M325.8,227.0h0M336.1,207.5h0M319.9,242.3h0M327.7,223.4h0M298.9,229.0h0M339.8,200.9h0M319.5,188.6h0M299.7,224.9h0M334.3,211.8h0M328.5,198.2h0M303.3,247.3h0M303.2,241.4h0M338.1,203.9h0M336.3,214.7h0M298.4,228.5h0M294.8,231.6h0M314.4,203.8h0M299.9,234.2h0M333.9,191.8h0M306.9,238.3h0M317.8,200.5h0M324.8,196.5h0M307.8,244.2h0M299.1,220.7h0M322.6,230.1h0M316.2,202.5h0M322.6,231.5h0M333.7,193.6h0M303.7,218.5h0M311.8,206.1h0M307.8,206.6h0M336.8,207.5h0M340.6,203.7h0M330.4,194.5h0M304.5,238.7h0M298.3,225.6h0M309.9,239.2h0M300.0,214.2h0M302.9,220.1h0M294.6,233.6h0M329.3,230.4h0M319.9,199.3h0M334.7,209.1h0M321.5,199.0h0M335.5,218.4h0M334.5,218.3h0M334.7,196.0h0M306.7,210.0h0M299.2,227.4h0M306.7,238.4h0M313.8,241.7h0M296.5,232.7h0M303.9,210.8h0M314.7,203.0h0M306.6,244.9h0M308.8,242.8h0M320.1,235.1h0M321.9,232.6h0M293.5,232.6h0M299.9,239.2h0M333.9,215.0h0M305.7,242.3h0M302.1,237.8h0M301.7,224.0h0M314.7,241.2h0M329.5,197.6h0M320.9,234.7h0M301.0,232.1h0M323.3,198.0h0M326.3,230.3h0M335.8,204.0h0M300.8,233.9h0M305.9,246.8h0M332.4,230.5h0M317.0,202.0h0M324.8,229.1h0M299.3,229.3h0M334.8,206.9h0M299.5,223.6h0M335.3,212.8h0M305.8,246.1h0M322.4,196.4h0M303.9,237.5h0M300.0,225.8h0M328.1,223.9h0M300.8,233.9h0M326.3,196.7h0M301.7,212.4h0M315.3,202.0h0M310.2,205.8h0M344.5,203.1h0M325.3,192.9h0M318.0,235.6h0M322.8,198.9h0M332.3,198.7h0M303.0,236.4h0M325.2,194.0h0M337.8,204.3h0M321.8,190.1h0M325.1,192.2h0M298.3,220.1h0M336.9,194.9h0M345.0,181.2h0M299.5,233.8h0M318.3,236.0h0M321.1,233.7h0M336.1,196.9h0M300.8,224.0h0M334.1,197.9h0M326.8,195.6h0M305.1,213.0h0M331.2,196.6h0M313.5,202.8h0M313.7,201.8h0M326.7,196.1h0M328.0,181.0h0M314.6,244.2h0M322.8,197.6h0M295.1,234.7h0M334.3,196.6h0M336.3,200.3h0M330.7,222.0h0M335.7,212.4h0M309.5,208.3h0M336.5,209.0h0M345.4,184.5h0M304.2,215.5h0M299.4,224.3h0M342.2,200.5h0M328.0,225.9h0M304.2,241.6h0M312.1,203.2h0M308.7,240.6h0M334.8,214.0h0M310.6,246.4h0M317.0,200.0h0M336.1,191.9h0M298.5,239.5h0M310.1,207.0h0M334.6,196.0h0M300.4,221.9h0M315.9,201.7h0M322.9,194.2h0M301.5,222.5h0M318.1,236.5h0M335.2,204.6h0M327.2,231.3h0M327.2,225.8h0M302.1,240.3h0M340.9,199.0h0M316.5,201.3h0M339.1,198.4h0M332.4,196.6h0M322.7,243.3h0M319.5,237.3h0M322.9,198.8h0M331.0,198.4h0M318.5,199.3h0M324.0,196.3h0M336.3,214.3h0M332.3,214.8h0M337.2,205.8h0M313.8,236.6h0M321.5,231.0h0M331.0,222.7h0M328.7,228.5h0M311.1,239.1h0M339.6,195.6h0M339.8,202.0h0M289.7,244.9h0M299.0,241.4h0M300.6,219.4h0M331.4,217.7h0M335.2,222.5h0M334.3,201.5h0M310.3,204.2h0M319.3,200.7h0M303.9,237.4h0M328.0,226.0h0M303.5,238.7h0M329.3,227.5h0M330.3,197.4h0M335.0,206.4h0M330.1,187.0h0M301.8,236.1h0M321.1,238.3h0M332.6,197.8h0M300.8,228.8h0M319.6,198.2h0M325.8,228.3h0M335.0,210.4h0M302.3,218.5h0M300.6,231.4h0M287.3,217.7h0M300.7,224.7h0M334.3,207.5h0M300.7,216.0h0M298.2,236.0h0M316.7,201.1h0M315.2,201.3h0M319.0,237.5h0M316.9,240.3h0M317.3,198.9h0M290.9,232.7h0M333.3,213.5h0M322.9,235.8h0M300.8,231.8h0M306.4,212.0h0M302.8,237.0h0M341.8,213.1h0M312.1,238.8h0M333.7,211.5h0M300.6,235.1h0M301.2,225.7h0M322.6,231.4h0M303.7,210.0h0M327.0,226.8h0M299.8,224.7h0M298.1,223.4h0M332.7,213.4h0M283.5,253.0h0M336.4,206.8h0M315.0,198.6h0M325.5,227.8h0M321.6,230.9h0M306.3,240.9h0M334.0,206.5h0M316.0,202.2h0M320.6,188.5h0M315.6,237.7h0M304.7,207.1h0M301.8,217.3h0M293.9,245.7h0M306.4,213.0h0M335.1,224.0h0M308.6,209.0h0M338.8,197.0h0M330.9,225.9h0M333.7,201.7h0M306.0,240.5h0M305.0,215.8h0M326.2,197.4h0M320.6,254.2h0M333.9,203.8h0M316.5,237.4h0M309.2,243.6h0M333.5,213.4h0M301.4,201.2h0M331.9,221.9h0M307.8,209.7h0M325.8,230.0h0M313.8,203.6h0M301.9,224.1h0M299.4,240.7h0M326.8,194.9h0M307.8,210.5h0M304.7,211.2h0M304.0,218.3h0M335.2,209.2h0M329.5,230.8h0M322.0,232.6h0M323.2,229.5h0M298.6,226.4h0M337.4,211.1h0M316.0,202.1h0M305.8,211.8h0M309.2,240.2h0M317.2,202.1h0M299.7,214.3h0M300.8,226.4h0M325.5,230.7h0M322.6,197.5h0M300.2,228.7h0M332.5,200.2h0M321.7,230.7h0M292.1,239.0h0M335.3,211.2h0M336.4,208.6h0M318.8,233.4h0M310.9,207.0h0M299.1,226.0h0M312.5,238.1h0M323.6,229.1h0M287.5,224.7h0M300.2,226.8h0M312.4,197.9h0M335.2,212.3h0M334.0,203.8h0M308.8,204.1h0M303.3,213.8h0M300.8,231.6h0M332.7,200.9h0M334.4,195.8h0M316.7,236.5h0M316.7,241.7h0M302.8,220.0h0M330.3,197.9h0M337.7,188.5h0M334.5,215.8h0M305.1,215.5h0M303.4,216.7h0M300.6,232.9h0M325.9,233.2h0M339.2,209.2h0M336.7,197.8h0M334.8,203.2h0M301.9,236.0h0M313.2,199.8h0M332.0,227.6h0M304.9,249.4h0M303.5,213.9h0M324.5,228.8h0M318.0,235.7h0M320.4,195.7h0M336.9,198.5h0M307.4,206.3h0M343.3,216.2h0M309.4,247.9h0M332.6,219.0h0M309.5,238.9h0M327.9,226.6h0M308.2,241.1h0M301.3,224.3h0M334.1,199.9h0M309.6,238.8h0M337.1,200.8h0M341.5,198.4h0M341.9,189.9h0M318.6,234.5h0M337.9,202.7h0M315.3,203.0h0M342.0,194.5h0M318.1,234.0h0M302.0,220.4h0M292.1,230.0h0M330.1,221.5h0M334.0,203.5h0M320.5,193.2h0M330.3,221.4h0M333.0,224.1h0M322.4,197.3h0M316.7,234.7h0M307.3,238.8h0M334.5,186.6h0M317.9,196.9h0M306.4,212.1h0M325.2,193.4h0M318.0,200.1h0M300.5,231.4h0M301.7,208.3h0M335.9,215.5h0M300.0,234.4h0M331.4,225.0h0M306.4,210.9h0M328.5,227.2h0M316.0,235.5h0M300.9,233.6h0M335.7,199.5h0M328.6,187.0h0M325.1,227.7h0M342.9,189.4h0M315.4,236.1h0M339.8,196.8h0M307.7,209.2h0M306.3,242.1h0M302.7,215.6h0M326.2,228.1h0M312.7,202.6h0M301.6,224.6h0M334.3,213.3h0M335.1,202.6h0M295.7,238.6h0M320.2,198.3h0M310.5,244.0h0M301.1,230.6h0M300.3,229.2h0M312.8,205.7h0M337.3,215.5h0M340.0,201.8h0M301.0,233.2h0M312.5,237.9h0M308.5,209.3h0M322.9,193.7h0M326.4,226.3h0M309.7,244.4h0M303.5,237.0h0M300.8,226.0h0M334.2,213.3h0M323.7,193.7h0M330.1,220.2h0M334.7,213.4h0M302.5,251.7h0M330.8,218.5h0M327.2,225.1h0M321.8,196.2h0M300.2,235.5h0M295.5,249.7h0M320.6,198.4h0M308.8,242.3h0M330.4,226.7h0M328.4,222.9h0M318.8,199.8h0M334.8,203.3h0M312.9,205.6h0M329.2,195.2h0M334.6,211.0h0M308.2,210.8h0M317.4,199.7h0M296.8,249.4h0M318.1,201.3h0M293.9,238.0h0M310.3,206.1h0M333.6,198.6h0M298.6,250.9h0M321.8,198.0h0M303.8,247.9h0M335.0,193.8h0M301.5,239.3h0M343.0,205.9h0M333.6,219.3h0M310.8,206.8h0M324.8,198.1h0M327.8,192.9h0M294.7,234.5h0M335.8,205.1h0M307.5,202.9h0M323.7,229.9h0M320.3,243.5h0M328.9,222.4h0M313.2,201.4h0M302.5,220.2h0M299.9,222.4h0M310.9,207.5h0M334.3,207.1h0M324.5,195.1h0M318.8,197.1h0M296.9,222.7h0M335.6,187.6h0M339.1,209.8h0M306.9,239.3h0M304.5,241.1h0M294.5,227.7h0M337.5,188.4h0M323.5,228.9h0M348.4,197.3h0M333.5,214.9h0M304.4,242.5h0M333.8,189.8h0M322.7,237.2h0M333.6,194.9h0M307.6,240.2h0M285.4,245.9h0M301.6,233.1h0M333.4,200.8h0M304.9,207.5h0M327.4,196.0h0M334.1,201.3h0M304.6,237.4h0M301.8,222.2h0M296.6,252.1h0M340.1,204.6h0M333.3,220.2h0M295.6,241.0h0M312.6,238.5h0M305.7,214.3h0M335.5,210.4h0M313.8,237.5h0M333.7,213.4h0M303.5,215.3h0M303.9,219.0h0M303.5,237.7h0M324.7,233.5h0M340.4,200.8h0M332.3,197.9h0M303.8,218.3h0M306.1,204.0h0M300.4,229.3h0M326.1,229.5h0M319.4,200.5h0M318.4,242.6h0M312.5,206.0h0M334.0,201.5h0M343.4,219.3h0M301.6,223.1h0M297.9,225.6h0M323.2,198.2h0M331.4,219.3h0M332.2,223.4h0M326.6,227.1h0M308.0,209.3h0M331.5,198.7h0M318.1,199.2h0M314.3,238.2h0M336.7,201.5h0M334.5,208.5h0M325.8,226.8h0M325.3,197.6h0M326.3,225.5h0M301.0,230.4h0M294.6,241.0h0M310.6,206.6h0M303.3,215.1h0M328.2,228.0h0M322.2,230.4h0M307.3,211.9h0M340.1,197.6h0M299.4,237.7h0M329.0,224.1h0M307.9,192.5h0M314.9,199.0h0M324.5,189.1h0M298.2,222.5h0M320.0,232.3h0M310.3,207.3h0M306.6,213.9h0M335.9,205.7h0M325.6,228.1h0M328.1,227.5h0M314.0,204.0h0M309.5,207.9h0M314.4,236.5h0M327.4,224.6h0M320.6,197.6h0M321.0,197.4h0M335.1,202.1h0M325.2,233.5h0M302.5,220.1h0M283.1,256.5h0M329.9,223.2h0M316.4,235.1h0M301.3,235.2h0M326.5,225.7h0M333.4,199.4h0M316.0,240.6h0M303.9,212.6h0M299.0,240.5h0M300.5,228.8h0M326.0,227.4h0M323.0,192.6h0M326.2,190.9h0M316.5,199.6h0M324.0,195.0h0M332.1,216.5h0M312.5,237.3h0M287.3,244.7h0M300.7,225.3h0M299.9,229.8h0M302.4,214.8h0M310.0,241.0h0M334.7,205.1h0M316.5,235.2h0M320.8,193.5h0M306.2,213.7h0M314.3,237.7h0M293.2,236.9h0M326.0,195.0h0M322.9,230.6h0M323.2,229.5h0M337.9,199.4h0M335.0,212.5h0M335.8,200.0h0M303.0,242.1h0M332.1,225.6h0M300.7,231.8h0M328.4,196.5h0M319.3,197.2h0M301.7,218.0h0M302.2,237.0h0M302.0,222.1h0M326.0,195.9h0M304.5,213.2h0M330.5,198.2h0M329.4,227.2h0M300.8,218.6h0M323.7,230.0h0M333.9,209.7h0M325.3,228.3h0M321.1,199.0h0M313.0,237.5h0M310.7,238.0h0M331.0,217.9h0M294.4,235.4h0M299.5,238.9h0M335.7,212.5h0M301.4,233.0h0M332.8,199.0h0M294.6,231.8h0M324.8,232.6h0M309.8,208.7h0M323.3,229.7h0M293.4,224.3h0M314.6,199.1h0M334.3,207.9h0M324.6,197.4h0M341.9,202.7h0M336.0,200.1h0M314.7,202.0h0M326.8,227.0h0M310.7,207.6h0M334.9,198.0h0M334.8,205.0h0M335.2,211.0h0M334.9,211.1h0M293.7,204.8h0M305.2,216.3h0M311.6,207.0h0M307.6,208.9h0M305.7,212.7h0M301.1,222.6h0M334.4,210.6h0M328.6,193.2h0M331.0,222.6h0M330.4,220.2h0M313.2,238.7h0M299.9,230.3h0M331.8,219.4h0M301.3,226.0h0M301.0,226.4h0M312.7,237.3h0M318.7,199.9h0M321.8,198.9h0M330.7,220.3h0M322.2,196.9h0M334.3,215.6h0M338.4,218.5h0M305.2,208.9h0M334.7,185.5h0M300.0,221.4h0M323.6,192.6h0M314.3,203.3h0M298.4,229.1h0M299.6,229.9h0M329.4,223.4h0M330.2,223.9h0M318.2,199.5h0M338.3,202.8h0M345.1,197.7h0M333.6,200.1h0M323.7,235.6h0M318.4,233.7h0M320.7,235.1h0M316.3,235.0h0M308.6,207.1h0M331.2,187.1h0M328.8,225.1h0M322.3,197.8h0M298.1,235.5h0M312.0,242.7h0M299.6,233.1h0M313.2,205.0h0M324.5,232.9h0M316.8,238.4h0M333.0,199.9h0M318.1,235.1h0M295.2,236.8h0M300.8,210.9h0M308.6,239.2h0M332.3,225.5h0M331.3,218.1h0M332.6,193.5h0M320.8,192.7h0M326.7,196.9h0M318.8,234.7h0M325.0,196.9h0M313.2,204.3h0M307.4,211.6h0M299.2,248.7h0M315.3,199.7h0M300.8,226.1h0M335.0,202.7h0M301.7,234.3h0M309.5,238.2h0M313.5,240.1h0M334.1,219.4h0M300.0,218.4h0M307.2,238.9h0M302.1,223.9h0M328.7,197.2h0M301.1,228.2h0M310.5,239.5h0M306.4,244.9h0M319.1,196.8h0M304.4,208.6h0M330.8,181.7h0M335.7,208.9h0M333.5,212.0h0M299.2,239.4h0M334.8,212.8h0M325.5,228.3h0M304.8,237.5h0M318.7,234.0h0M310.9,239.6h0M307.7,211.3h0M290.5,235.0h0M325.2,188.8h0M305.5,215.7h0M331.6,235.3h0M297.0,236.5h0M292.5,250.8h0M302.2,246.7h0M302.8,235.9h0M335.4,201.9h0M332.2,217.3h0M324.7,189.9h0M324.8,195.5h0M300.8,223.3h0M332.2,193.6h0M325.7,230.7h0M312.0,204.1h0M330.1,226.5h0M292.9,245.9h0M331.3,190.9h0M338.1,212.8h0M336.0,205.9h0M334.8,206.6h0M335.0,205.9h0M331.5,192.8h0M318.2,197.2h0M301.7,241.1h0M334.6,198.8h0M338.2,208.4h0M329.6,229.9h0M299.3,227.6h0M307.5,240.4h0M309.1,188.6h0M302.1,222.2h0M324.4,232.7h0M301.7,234.8h0M308.2,239.9h0M337.7,202.8h0M317.5,199.0h0M301.4,215.1h0M320.9,232.0h0M331.2,197.1h0M295.2,239.4h0M304.0,217.3h0M335.1,187.2h0M331.8,227.6h0M293.9,216.2h0M338.4,210.2h0M326.4,187.8h0M300.1,220.3h0M318.0,236.6h0M302.3,213.1h0M297.0,233.8h0M304.6,245.0h0M301.2,216.1h0M306.7,247.9h0M337.0,222.5h0M301.6,239.4h0M293.3,224.3h0M333.6,214.2h0M313.9,238.6h0M313.5,237.9h0M300.7,220.1h0M334.3,207.5h0M304.3,243.5h0M337.4,214.0h0M301.4,212.9h0M327.9,194.0h0M300.6,231.2h0M348.4,205.2h0M306.9,212.3h0M307.2,211.8h0M333.9,207.8h0M323.4,232.4h0M298.2,223.4h0M335.8,198.8h0M335.8,206.4h0M322.1,232.3h0M324.8,228.2h0M332.5,228.8h0M340.1,203.7h0M309.3,241.8h0M334.0,214.1h0M324.6,231.9h0M319.2,234.6h0M331.8,220.1h0M313.6,204.6h0M309.7,205.8h0M324.7,232.3h0M291.7,243.5h0M301.4,227.5h0M337.8,196.8h0M313.4,240.6h0M303.9,237.8h0M314.1,200.2h0M301.2,249.2h0M305.3,215.7h0M299.8,227.4h0M303.4,240.9h0M302.4,216.3h0M291.6,241.1h0M299.6,230.9h0M318.8,246.6h0M333.8,203.8h0M332.7,190.9h0M335.5,209.6h0M303.8,238.4h0M296.4,231.5h0M335.2,191.3h0M316.2,236.3h0M329.6,198.1h0M310.8,247.0h0M309.5,199.3h0M304.8,210.3h0M297.8,237.5h0M310.2,238.8h0M300.1,227.5h0M319.0,200.0h0M335.5,206.7h0M331.8,196.1h0M318.4,236.9h0M333.8,202.6h0M319.9,200.0h0M298.2,229.2h0M310.8,237.6h0M311.2,206.7h0M328.8,223.9h0M347.7,185.5h0M303.1,220.1h0M320.6,239.4h0M333.3,214.8h0M300.1,224.5h0M333.4,197.4h0M300.6,225.5h0M303.0,218.7h0M302.7,251.7h0M345.6,184.6h0M334.8,202.9h0M315.4,241.1h0M330.5,220.5h0M335.6,194.3h0M338.2,201.8h0M292.1,232.6h0M335.1,199.3h0M310.9,237.5h0M299.1,221.6h0M327.4,227.1h0M296.6,229.2h0M320.5,194.8h0M337.9,216.7h0M311.3,203.4h0M302.9,241.8h0M336.6,202.6h0M312.2,202.6h0M316.9,241.5h0M306.2,247.4h0M313.6,199.2h0M300.4,224.2h0M320.4,197.3h0M333.3,211.3h0M317.1,181.1h0M281.3,228.4h0M297.9,204.4h0M305.2,215.4h0M332.8,187.0h0M325.8,194.5h0M338.7,194.0h0M327.3,197.1h0M318.3,246.7h0M310.7,208.2h0M332.0,196.4h0M340.2,204.0h0M301.4,239.5h0M324.3,198.5h0M311.0,239.5h0M308.9,208.6h0M339.3,218.9h0M295.2,238.5h0M335.6,199.0h0M321.3,198.7h0M298.2,243.4h0M332.2,222.1h0M307.5,206.1h0M298.1,247.2h0M305.6,214.9h0M302.1,212.2h0M311.4,203.2h0M337.2,206.8h0M308.5,237.9h0M323.7,235.1h0M315.8,238.0h0M315.5,238.5h0M301.2,236.2h0M327.4,196.8h0M312.9,246.6h0M308.7,209.9h0M314.1,202.9h0M311.1,207.9h0M320.4,196.8h0M334.1,206.5h0M310.8,201.3h0M300.4,228.6h0M303.1,245.5h0M337.8,202.2h0M329.7,197.9h0M336.3,200.1h0M334.7,204.7h0M338.2,201.9h0M314.2,237.8h0M325.0,240.3h0M303.7,238.3h0M333.5,192.5h0M336.6,200.7h0M340.2,199.6h0M319.3,234.7h0M309.5,244.3h0M333.1,197.0h0M331.7,197.8h0M333.6,202.6h0M298.2,236.0h0M333.6,212.6h0M333.0,218.9h0M331.5,219.0h0M311.0,201.2h0M305.0,245.9h0M303.1,239.1h0M329.2,197.4h0M313.7,204.3h0M337.0,210.1h0M295.8,225.3h0M326.2,226.5h0M305.9,212.1h0M326.2,191.8h0M314.5,237.9h0M303.7,242.2h0M328.4,196.1h0M341.3,200.5h0M333.8,199.7h0M334.5,201.1h0M303.5,248.2h0M319.2,233.5h0M326.7,228.8h0M333.2,212.4h0M326.8,227.6h0M307.9,239.8h0M333.6,222.9h0M305.0,238.5h0M299.3,222.0h0M315.0,203.0h0M303.3,220.5h0M330.9,219.1h0M329.2,197.8h0M328.8,196.0h0M318.0,242.5h0M336.6,214.9h0M328.8,195.0h0M306.1,209.2h0M337.0,195.4h0M340.3,202.6h0M303.3,216.9h0M301.5,217.5h0M321.6,243.0h0M308.7,210.7h0M331.3,196.3h0M326.9,227.7h0M319.6,236.7h0M328.4,231.7h0M332.2,219.8h0M324.5,234.8h0M334.1,202.0h0M325.8,187.1h0M335.7,206.2h0M301.0,234.5h0M332.5,214.4h0M301.1,231.0h0M324.0,228.8h0M293.8,241.2h0M307.4,211.6h0M309.5,203.5h0M326.6,235.7h0M309.8,241.3h0M339.0,208.3h0M327.5,184.9h0M303.5,238.2h0M300.8,239.3h0M335.8,207.8h0M292.9,229.6h0M307.5,202.4h0M330.0,220.9h0M323.4,229.5h0M300.5,232.8h0M305.9,238.6h0M312.7,201.8h0M327.3,195.7h0M309.9,207.7h0M327.4,191.8h0M314.2,202.1h0M326.1,231.8h0M306.5,208.4h0M308.9,239.7h0M303.0,239.7h0M332.2,195.4h0M311.5,202.6h0M330.7,194.6h0M332.2,216.7h0M304.1,208.5h0M309.5,209.7h0M302.9,242.6h0M324.9,228.6h0M343.0,187.9h0M337.4,193.8h0M333.4,198.5h0M303.1,214.3h0M299.2,228.5h0M320.1,200.3h0M301.2,234.5h0M299.8,226.9h0M294.7,246.7h0M327.7,224.2h0M307.7,239.2h0M336.8,188.7h0M312.0,202.8h0M343.7,217.4h0M326.6,197.4h0M324.2,192.3h0M318.9,234.6h0M345.7,202.1h0M319.7,235.5h0M319.0,200.9h0M299.9,222.7h0M337.3,204.8h0M335.5,204.3h0M301.0,224.8h0M336.7,212.3h0M335.2,196.5h0M307.2,208.0h0M319.3,199.5h0M300.1,232.7h0M300.9,226.1h0M329.5,225.5h0M324.2,231.8h0M310.7,207.1h0M335.6,182.9h0M346.1,185.7h0M334.0,210.2h0M300.9,226.5h0M298.7,244.8h0M300.6,245.3h0M303.9,236.8h0M319.5,241.6h0M312.6,203.5h0M305.7,244.6h0M301.4,235.6h0M318.8,234.8h0M339.5,203.4h0M335.0,203.4h0M333.8,216.7h0M323.7,194.6h0M309.0,201.3h0M319.4,246.2h0M310.3,252.4h0M328.2,197.4h0M334.9,204.1h0M334.6,197.1h0M322.6,230.4h0M300.9,229.7h0M297.0,224.9h0M311.7,241.9h0M333.2,216.8h0M337.9,210.0h0M296.7,239.7h0M314.8,201.4h0M332.5,217.1h0M337.8,192.6h0M313.2,237.8h0M299.5,234.7h0M335.2,200.4h0M307.0,212.4h0M319.0,233.0h0M328.7,226.2h0M301.7,225.2h0M332.9,194.8h0M314.8,200.2h0M314.9,237.3h0M298.1,226.9h0M315.5,201.4h0M300.3,242.6h0M331.3,217.5h0M315.2,235.8h0M325.4,227.5h0M319.1,196.4h0M332.1,218.7h0M316.0,195.1h0M334.1,191.8h0M306.9,212.3h0M333.2,196.4h0M301.6,235.3h0M331.4,228.4h0M317.5,201.2h0M338.8,200.4h0M300.3,233.4h0M298.7,244.9h0M313.5,238.8h0M325.4,192.7h0M327.1,196.8h0M334.7,210.9h0M339.9,193.7h0M305.8,210.6h0M334.0,207.9h0M334.1,213.2h0M326.6,193.5h0M299.1,233.9h0M334.2,208.5h0M319.8,198.1h0M334.5,202.1h0M336.3,202.6h0M301.0,210.2h0M320.6,199.0h0M323.2,231.1h0M295.5,223.2h0M337.6,186.6h0M308.7,210.3h0M303.4,218.5h0M328.0,223.6h0M336.2,206.7h0M303.9,211.7h0M336.6,216.4h0M335.0,204.7h0M324.8,227.7h0M320.4,200.1h0M325.2,195.7h0M330.3,220.6h0M332.7,225.8h0M300.0,226.3h0M308.1,241.4h0M297.3,238.7h0M334.5,199.5h0M333.3,225.1h0M302.5,216.3h0M300.4,217.0h0M332.0,221.9h0M316.5,200.5h0M308.1,210.0h0M298.6,235.6h0M301.1,218.6h0M333.6,196.8h0M310.1,237.9h0M307.7,211.9h0M302.7,218.7h0M304.7,212.8h0M303.6,214.7h0M308.6,242.0h0M296.7,235.6h0M312.8,239.5h0M306.3,251.2h0M351.8,215.9h0M317.1,234.5h0M304.1,216.9h0M318.0,238.0h0M335.4,208.5h0M301.7,218.8h0M327.6,196.0h0M301.9,224.4h0M332.1,188.8h0M327.8,226.5h0M321.7,233.2h0M324.7,227.6h0M338.0,218.2h0M330.9,224.1h0M303.0,216.1h0M297.2,251.4h0M335.9,197.0h0M308.8,239.6h0M316.1,198.0h0M298.2,237.0h0M294.5,226.0h0M323.9,196.5h0M302.1,218.5h0M307.4,212.4h0M309.6,205.4h0M335.2,219.4h0M305.1,238.0h0M313.7,237.3h0M336.4,211.7h0M301.0,227.2h0M303.5,238.1h0M339.4,203.2h0M332.8,220.9h0M295.2,236.8h0M300.7,239.3h0M297.2,222.7h0M307.3,211.7h0M295.5,234.7h0M330.2,225.8h0M311.5,237.3h0M313.8,203.4h0M315.2,198.5h0M324.7,198.4h0M332.2,219.3h0M334.7,198.2h0M314.8,197.8h0M301.9,234.5h0M299.1,227.1h0M327.7,196.2h0M338.9,210.7h0M303.8,241.4h0M319.8,199.2h0M309.4,240.5h0M312.8,238.4h0M310.4,238.4h0M290.5,237.3h0M310.8,237.6h0M339.9,202.5h0M339.5,203.3h0M337.5,202.2h0M304.8,246.2h0M295.9,244.0h0M338.5,187.1h0M333.8,189.5h0M325.3,194.9h0M307.7,244.1h0M336.1,200.1h0M308.3,241.0h0M332.0,195.1h0M304.6,215.0h0M313.0,203.9h0M324.9,234.1h0M329.3,192.3h0M321.3,235.5h0M302.0,239.4h0M303.0,235.9h0M305.3,238.9h0M301.6,233.3h0M337.3,176.9h0M324.7,197.5h0M311.6,237.3h0M336.3,216.8h0M303.0,208.6h0M325.1,228.7h0M317.1,202.2h0M325.0,228.8h0M333.9,211.4h0M298.1,231.3h0M312.8,239.1h0M333.7,199.3h0M321.8,233.0h0M317.9,235.9h0M320.6,231.8h0M310.5,241.5h0M284.2,246.4h0M300.4,225.4h0M305.8,207.9h0M302.2,235.0h0M316.2,190.0h0M303.1,238.4h0M308.1,208.6h0M296.9,232.9h0M301.3,201.3h0M342.6,188.0h0M332.5,197.6h0M297.6,247.0h0M312.3,237.0h0M322.3,230.7h0M319.5,200.2h0M344.1,181.5h0M321.6,231.4h0M313.6,201.6h0M299.9,226.6h0M302.2,240.9h0M331.3,194.0h0M323.1,229.4h0M304.8,216.7h0M324.5,232.4h0M313.2,204.9h0M303.9,215.6h0M330.1,198.0h0M312.9,242.4h0M340.9,201.7h0M303.0,220.2h0M321.6,236.9h0M331.4,217.4h0M311.9,206.9h0M334.3,216.8h0M318.0,197.1h0M307.5,240.1h0M325.5,198.1h0M302.2,222.8h0M343.1,208.1h0M328.6,232.7h0M307.3,204.2h0M311.8,202.0h0M325.4,195.7h0M291.2,228.1h0M311.4,240.1h0M303.7,213.8h0M331.1,217.9h0M322.3,197.3h0M321.3,233.5h0M334.6,200.4h0M310.8,205.7h0M322.3,185.4h0M339.9,199.7h0M322.0,231.8h0M328.5,192.9h0M300.0,224.5h0M296.9,243.7h0M300.4,238.5h0M310.0,238.0h0M333.6,201.8h0M300.7,218.7h0M293.0,230.5h0M336.1,207.6h0M325.1,194.8h0M310.9,205.0h0M296.6,236.1h0M330.6,221.8h0M301.6,238.3h0M340.7,209.7h0M329.3,185.8h0M334.3,203.4h0M319.3,200.8h0M315.8,202.1h0M299.2,238.2h0M299.4,240.3h0M324.2,228.3h0M316.7,236.7h0M307.7,240.4h0M304.0,218.6h0M307.2,238.4h0M329.1,187.1h0M331.4,198.2h0M333.5,216.6h0M336.1,212.5h0M305.6,214.4h0M291.7,237.5h0M312.1,237.7h0M328.1,195.5h0M304.5,241.1h0M306.8,198.0h0M314.3,202.8h0M311.6,205.9h0M313.0,237.1h0M304.2,197.9h0M324.9,195.4h0M325.0,231.8h0M324.3,197.5h0M321.9,197.6h0M329.3,223.9h0M334.0,200.3h0M318.6,233.4h0M321.9,235.5h0M306.9,240.5h0M318.1,234.0h0M309.6,203.5h0M336.5,202.2h0M305.4,239.9h0M332.2,197.9h0M309.9,206.0h0M332.6,196.3h0M332.2,221.7h0M336.0,210.4h0M325.3,190.2h0M296.2,241.2h0M331.0,219.8h0M335.0,216.6h0M328.0,193.9h0M306.1,245.6h0M299.4,227.7h0M334.2,201.1h0M325.5,194.1h0M301.3,224.6h0M326.7,226.4h0M311.7,239.9h0M335.9,208.2h0M301.2,232.1h0M333.1,224.1h0M336.2,202.4h0M300.1,233.6h0M300.3,236.7h0M312.4,201.4h0M325.0,197.5h0M307.7,202.3h0M338.7,198.5h0M340.1,211.8h0M335.3,212.2h0M298.1,218.1h0M333.9,196.9h0M345.6,204.1h0M334.5,204.7h0M314.1,196.4h0M301.7,223.0h0M328.7,198.0h0M321.0,194.9h0M334.0,200.5h0M315.3,200.1h0M345.6,196.9h0M305.7,239.1h0M299.6,239.2h0M309.8,253.8h0M301.5,214.7h0M302.9,207.5h0M303.2,240.2h0M313.1,201.2h0M331.3,219.5h0M332.7,216.8h0M303.0,216.8h0M296.5,231.3h0M303.5,237.6h0M313.1,241.8h0M334.6,207.5h0M324.9,196.7h0M333.0,213.0h0M295.9,233.8h0M308.9,238.2h0M303.9,214.4h0M312.9,197.0h0M320.5,232.0h0M329.9,187.6h0M337.2,211.8h0M333.8,196.2h0M335.0,210.1h0M332.8,200.6h0M328.3,224.4h0M328.4,197.3h0M303.8,238.2h0M334.6,220.1h0M321.4,232.5h0M325.2,226.8h0M300.0,229.9h0M325.2,198.0h0M298.2,232.6h0M299.3,232.0h0M334.4,213.4h0M330.5,220.8h0M298.5,229.2h0M325.6,197.6h0M313.5,202.3h0M320.6,197.6h0M312.6,238.1h0M304.0,240.3h0M317.2,197.8h0M318.5,198.7h0M334.5,196.1h0M308.3,210.5h0M301.8,208.1h0M300.1,217.3h0M300.8,221.6h0M335.8,208.6h0M344.6,215.0h0M305.9,214.8h0M303.4,220.0h0M328.4,223.2h0M314.6,197.5h0M337.7,204.3h0M329.9,219.8h0M297.8,255.3h0M310.2,207.8h0M312.1,240.7h0M310.6,237.7h0M335.2,209.2h0M319.1,199.6h0M300.5,219.2h0M332.5,191.2h0M305.0,241.9h0M314.5,237.1h0M300.8,227.0h0M299.6,239.5h0M303.4,214.6h0M308.8,240.2h0M329.2,196.2h0M296.5,239.7h0M323.0,229.3h0M321.6,242.2h0M331.2,220.3h0M328.6,193.0h0M333.4,198.8h0M326.9,195.5h0M325.7,228.5h0M329.7,230.9h0M315.7,199.5h0M321.1,197.6h0M295.6,240.4h0M329.3,198.2h0M319.2,234.1h0M330.9,225.2h0M294.9,232.8h0M339.7,214.6h0M311.0,207.5h0M300.4,216.7h0M301.1,237.5h0M341.6,206.1h0M308.3,211.5h0M295.0,242.8h0M329.2,191.5h0M304.2,248.7h0M334.0,198.6h0M309.0,207.2h0M333.4,213.8h0M334.1,204.9h0M337.0,205.8h0M330.6,218.6h0M326.7,198.0h0M300.5,237.2h0M300.6,234.7h0M314.4,236.8h0M332.1,197.3h0M304.4,243.4h0M326.1,228.7h0M294.8,241.3h0M325.7,226.8h0M299.8,226.6h0M304.3,217.4h0M320.5,232.7h0M330.7,195.8h0M319.7,234.5h0M334.6,193.5h0M298.8,233.3h0M299.5,217.0h0M336.9,198.8h0M335.0,199.4h0M338.8,205.4h0M330.8,218.1h0M308.6,240.4h0M329.9,195.7h0M334.4,196.4h0M320.6,233.5h0M332.9,219.6h0M308.1,241.0h0M315.4,236.4h0M337.2,199.8h0M332.0,223.7h0M306.5,212.7h0M334.2,204.5h0M344.0,197.6h0M317.5,235.4h0M314.4,204.2h0M331.8,222.5h0M316.9,202.2h0M328.8,198.1h0M315.9,239.5h0M309.3,204.1h0M313.5,200.7h0M328.0,197.7h0M330.9,196.1h0M316.2,236.5h0M295.7,223.0h0M300.5,240.0h0M331.4,218.0h0M333.9,215.7h0M307.5,208.4h0M316.5,200.4h0M310.3,241.1h0M330.5,219.3h0M321.1,232.3h0M337.2,191.8h0M315.3,203.7h0M302.0,237.0h0M301.0,234.4h0M333.4,199.6h0M294.2,235.5h0M311.0,238.6h0M322.1,198.2h0M308.3,245.1h0M317.8,235.9h0M338.9,204.7h0M331.0,218.2h0M296.4,230.1h0M309.8,239.9h0M343.7,184.8h0M303.6,244.7h0M323.2,198.0h0M333.1,217.3h0M312.0,241.3h0M325.7,197.7h0M321.5,197.1h0M336.1,213.2h0M308.6,207.9h0M334.8,208.6h0M296.2,235.9h0M316.8,200.1h0M332.3,199.5h0M326.8,243.5h0M330.1,198.6h0M341.3,212.1h0M336.8,197.8h0M334.4,219.6h0M301.7,234.7h0M323.4,197.9h0M329.1,223.1h0M330.2,195.1h0M334.7,210.7h0M317.0,234.6h0M325.2,194.3h0M317.9,189.3h0M332.2,195.7h0M334.2,218.8h0M315.7,201.9h0M319.7,234.2h0M330.4,225.6h0M331.3,219.5h0M318.6,235.5h0M311.9,244.3h0M301.8,249.1h0M300.2,233.0h0M315.4,203.3h0M324.8,247.4h0M334.2,198.0h0M338.8,225.9h0M335.3,194.1h0M330.6,195.2h0M298.1,223.5h0M318.1,234.3h0M327.6,193.0h0M337.2,208.3h0M310.6,238.9h0M300.1,234.6h0M306.7,212.7h0M303.7,217.9h0M352.8,187.5h0M331.6,196.3h0M323.6,230.1h0M317.3,193.5h0M301.1,237.5h0M318.8,236.5h0M301.9,223.1h0M300.7,240.9h0M320.1,234.1h0M318.2,235.1h0M302.5,216.4h0M323.2,198.9h0M333.5,200.5h0M312.2,240.3h0M320.6,235.6h0M331.8,195.4h0M299.1,231.4h0M330.6,198.0h0M327.3,196.9h0M298.2,236.4h0M311.7,206.8h0M317.3,195.2h0M312.5,201.6h0M329.6,221.1h0M339.7,194.7h0M318.0,198.7h0M310.1,209.0h0M307.6,211.1h0M307.9,208.9h0M338.4,205.7h0M317.0,199.7h0M295.9,219.8h0M301.0,226.6h0M301.1,228.2h0M313.8,203.1h0M328.1,195.6h0M334.8,193.6h0M318.8,200.2h0M315.9,237.7h0M336.4,201.0h0M333.4,213.5h0M313.6,204.4h0M294.0,232.0h0M317.0,201.5h0M318.0,237.5h0M296.4,234.5h0M324.4,196.8h0M336.4,208.5h0M340.2,207.8h0M340.6,219.2h0M308.2,237.9h0M315.1,241.2h0M304.4,212.9h0M298.2,236.5h0M335.2,194.4h0M316.7,194.7h0M346.6,208.9h0M334.7,219.5h0M341.9,197.3h0M337.3,203.0h0M302.3,235.0h0M302.9,220.5h0M331.9,194.1h0M310.1,197.9h0M299.8,243.1h0M309.3,205.3h0M334.4,206.0h0M333.5,202.0h0M323.8,229.8h0M334.5,211.5h0M317.6,235.4h0M306.7,210.0h0M309.9,243.5h0M336.1,206.6h0M326.7,225.4h0M317.4,201.5h0M335.7,210.1h0M332.0,219.5h0M337.6,197.1h0M330.1,219.4h0M333.7,211.2h0M326.2,196.8h0M301.8,241.0h0M286.6,232.5h0M305.2,216.0h0M331.0,195.7h0M327.4,196.3h0M301.2,238.4h0M339.2,202.6h0M330.0,197.3h0M336.2,208.5h0M335.8,212.4h0M309.5,207.5h0M305.5,212.2h0M304.7,215.2h0M302.6,215.8h0M318.5,240.5h0M306.2,244.1h0M313.1,204.9h0M296.6,230.6h0M312.8,203.9h0M323.6,230.2h0M302.4,235.2h0M337.3,188.9h0M335.7,210.0h0M344.5,195.6h0M317.0,201.9h0M324.1,236.5h0M313.9,248.3h0M303.6,217.3h0M302.8,236.8h0M306.5,213.6h0M334.3,223.5h0M317.5,241.7h0M310.8,249.4h0M320.7,233.0h0M324.0,230.9h0M330.4,220.4h0M327.9,197.4h0M301.1,235.3h0M327.0,229.3h0M293.4,224.4h0M321.6,198.9h0M299.3,222.8h0M316.3,235.7h0M302.3,238.9h0M311.7,207.0h0M305.4,215.2h0M302.4,217.1h0M318.6,198.1h0M339.7,183.9h0M336.8,202.4h0M325.7,196.0h0M337.7,213.6h0M299.8,225.1h0M335.3,216.1h0M294.9,224.4h0M301.8,245.8h0M328.8,229.3h0M308.0,205.7h0M303.3,219.1h0M307.1,210.6h0M289.8,241.8h0M332.8,218.2h0M331.8,222.0h0M304.3,216.9h0M314.4,238.4h0M320.9,197.8h0M306.8,251.0h0M313.7,202.7h0M299.8,245.9h0M310.3,207.0h0M298.9,223.8h0" fill="none" stroke="#9389f5" stroke-width="0.9" stroke-linecap="round" stroke-opacity="0.4"/>
<rect x="254.50" y="168.7" width="127.40" height="95.70" fill="none" stroke="#1a1a1a" stroke-width="0.9"/>
<path d="M258.72,264.4 v-1.4 M258.72,168.7 v1.4 M263.28,264.4 v-1.4 M263.28,168.7 v1.4 M267.84,264.4 v-1.4 M267.84,168.7 v1.4 M272.40,264.4 v-2.4 M272.40,168.7 v2.4 M276.96,264.4 v-1.4 M276.96,168.7 v1.4 M281.52,264.4 v-1.4 M281.52,168.7 v1.4 M286.08,264.4 v-1.4 M286.08,168.7 v1.4 M290.64,264.4 v-1.4 M290.64,168.7 v1.4 M295.20,264.4 v-2.4 M295.20,168.7 v2.4 M299.76,264.4 v-1.4 M299.76,168.7 v1.4 M304.32,264.4 v-1.4 M304.32,168.7 v1.4 M308.88,264.4 v-1.4 M308.88,168.7 v1.4 M313.44,264.4 v-1.4 M313.44,168.7 v1.4 M318.00,264.4 v-2.4 M318.00,168.7 v2.4 M322.56,264.4 v-1.4 M322.56,168.7 v1.4 M327.12,264.4 v-1.4 M327.12,168.7 v1.4 M331.68,264.4 v-1.4 M331.68,168.7 v1.4 M336.24,264.4 v-1.4 M336.24,168.7 v1.4 M340.80,264.4 v-2.4 M340.80,168.7 v2.4 M345.36,264.4 v-1.4 M345.36,168.7 v1.4 M349.92,264.4 v-1.4 M349.92,168.7 v1.4 M354.48,264.4 v-1.4 M354.48,168.7 v1.4 M359.04,264.4 v-1.4 M359.04,168.7 v1.4 M363.60,264.4 v-2.4 M363.60,168.7 v2.4 M368.16,264.4 v-1.4 M368.16,168.7 v1.4 M372.72,264.4 v-1.4 M372.72,168.7 v1.4 M377.28,264.4 v-1.4 M377.28,168.7 v1.4 M254.50,261.12 h1.4 M381.90,261.12 h-1.4 M254.50,257.10 h1.4 M381.90,257.10 h-1.4 M254.50,253.08 h1.4 M381.90,253.08 h-1.4 M254.50,249.06 h2.4 M381.90,249.06 h-2.4 M254.50,245.04 h1.4 M381.90,245.04 h-1.4 M254.50,241.02 h1.4 M381.90,241.02 h-1.4 M254.50,237.00 h1.4 M381.90,237.00 h-1.4 M254.50,232.98 h2.4 M381.90,232.98 h-2.4 M254.50,228.96 h1.4 M381.90,228.96 h-1.4 M254.50,224.94 h1.4 M381.90,224.94 h-1.4 M254.50,220.92 h1.4 M381.90,220.92 h-1.4 M254.50,216.90 h2.4 M381.90,216.90 h-2.4 M254.50,212.88 h1.4 M381.90,212.88 h-1.4 M254.50,208.86 h1.4 M381.90,208.86 h-1.4 M254.50,204.84 h1.4 M381.90,204.84 h-1.4 M254.50,200.82 h2.4 M381.90,200.82 h-2.4 M254.50,196.80 h1.4 M381.90,196.80 h-1.4 M254.50,192.78 h1.4 M381.90,192.78 h-1.4 M254.50,188.76 h1.4 M381.90,188.76 h-1.4 M254.50,184.74 h2.4 M381.90,184.74 h-2.4 M254.50,180.72 h1.4 M381.90,180.72 h-1.4 M254.50,176.70 h1.4 M381.90,176.70 h-1.4 M254.50,172.68 h1.4 M381.90,172.68 h-1.4" stroke="#111" stroke-width="0.6" fill="none"/>
<text x="271.10" y="274.00" font-size="9.0" stroke="#000" stroke-width="0.12" text-anchor="middle" fill="#000" >−10</text>
<text x="293.90" y="274.00" font-size="9.0" stroke="#000" stroke-width="0.12" text-anchor="middle" fill="#000" >−5</text>
<text x="318.00" y="274.00" font-size="9.0" stroke="#000" stroke-width="0.12" text-anchor="middle" fill="#000" >0</text>
<text x="340.80" y="274.00" font-size="9.0" stroke="#000" stroke-width="0.12" text-anchor="middle" fill="#000" >5</text>
<text x="363.60" y="274.00" font-size="9.0" stroke="#000" stroke-width="0.12" text-anchor="middle" fill="#000" >10</text>
<text x="253.00" y="268.34" font-size="9.0" stroke="#000" stroke-width="0.12" text-anchor="end" fill="#000" >−6</text>
<text x="253.00" y="252.26" font-size="9.0" stroke="#000" stroke-width="0.12" text-anchor="end" fill="#000" >−4</text>
<text x="253.00" y="236.18" font-size="9.0" stroke="#000" stroke-width="0.12" text-anchor="end" fill="#000" >−2</text>
<text x="253.00" y="220.10" font-size="9.0" stroke="#000" stroke-width="0.12" text-anchor="end" fill="#000" >0</text>
<text x="253.00" y="204.02" font-size="9.0" stroke="#000" stroke-width="0.12" text-anchor="end" fill="#000" >2</text>
<text x="253.00" y="187.94" font-size="9.0" stroke="#000" stroke-width="0.12" text-anchor="end" fill="#000" >4</text>
<text x="253.00" y="171.86" font-size="9.0" stroke="#000" stroke-width="0.12" text-anchor="end" fill="#000" >6</text>
<text x="317.90" y="160.60" font-size="10.9" stroke="#000" stroke-width="0.12" text-anchor="middle" fill="#000" >Gaussian Filtering</text>
<text x="317.80" y="285.8" font-size="10.9" text-anchor="middle" stroke="#000" stroke-width="0.12">x<tspan font-size="6.4" dy="3.1">a</tspan><tspan dy="-3.1"> (SNU)</tspan></text>
<text transform="translate(239.50,216.60) rotate(-90)" font-size="10.9" text-anchor="middle" stroke="#000" stroke-width="0.12">x<tspan font-size="6.4" dy="3.1">b</tspan><tspan dy="-3.1"> (SNU)</tspan></text>
<radialGradient id="gR"><stop offset="0" stop-color="#f6a6ac" stop-opacity="0.680"/><stop offset="0.489" stop-color="#f6a6ac" stop-opacity="0.680"/><stop offset="0.543" stop-color="#f6a6ac" stop-opacity="0.612"/><stop offset="0.594" stop-color="#f6a6ac" stop-opacity="0.476"/><stop offset="0.638" stop-color="#f6a6ac" stop-opacity="0.326"/><stop offset="0.691" stop-color="#f6a6ac" stop-opacity="0.204"/><stop offset="0.745" stop-color="#f6a6ac" stop-opacity="0.116"/><stop offset="0.809" stop-color="#f6a6ac" stop-opacity="0.061"/><stop offset="0.894" stop-color="#f6a6ac" stop-opacity="0.027"/><stop offset="1.000" stop-color="#f6a6ac" stop-opacity="0.000"/></radialGradient>
<clipPath id="cu"><rect x="480" y="170" width="124" height="30.5"/></clipPath>
<clipPath id="cl"><rect x="480" y="232.3" width="124" height="31"/></clipPath>
<g clip-path="url(#cu)"><g transform="translate(540.9,216.4) rotate(-54.15)"><ellipse rx="46.44" ry="22.84" fill="url(#gR)"/></g></g>
<g clip-path="url(#cl)"><g transform="translate(539.0,217.4) rotate(-54.15)"><ellipse rx="46.44" ry="22.84" fill="url(#gR)"/></g></g>
<path d="M541.4,196.9h0M543.5,199.4h0M535.7,199.8h0M532.5,197.8h0M541.4,200.2h0M551.4,192.3h0M540.0,196.2h0M543.4,198.0h0M534.8,198.6h0M541.8,200.2h0M552.0,197.7h0M553.2,199.1h0M553.4,195.2h0M556.5,195.3h0M559.1,189.4h0M545.8,197.4h0M551.3,193.0h0M549.0,195.0h0M540.3,198.5h0M551.9,196.6h0M543.5,195.2h0M530.7,180.3h0M555.5,196.7h0M550.0,196.3h0M541.4,200.2h0M523.8,199.6h0M547.0,196.0h0M539.7,199.8h0M565.4,186.9h0M547.4,198.0h0M536.4,195.1h0M558.9,199.1h0M548.9,193.4h0M557.1,191.8h0M552.4,196.7h0M549.3,197.1h0M570.0,194.4h0M545.3,195.9h0M547.8,195.0h0M542.1,200.2h0M554.9,197.3h0M564.3,198.6h0M562.3,190.2h0M551.8,193.5h0M546.8,195.8h0M558.7,199.4h0M557.0,199.0h0M544.0,197.8h0M551.1,197.5h0M551.7,197.9h0M558.3,200.1h0M550.1,195.6h0M552.9,195.0h0M558.5,194.6h0M554.0,192.7h0M560.5,198.7h0M558.6,199.4h0M546.2,193.7h0M556.6,194.0h0M537.4,200.3h0M544.2,199.1h0M547.3,194.0h0M553.9,192.3h0M545.3,197.5h0M542.5,195.1h0M557.0,199.9h0M552.9,196.8h0M557.6,194.8h0M564.4,188.0h0M567.3,189.9h0M543.1,199.2h0M553.0,198.3h0M545.9,197.2h0M540.4,195.3h0M557.2,195.4h0M559.6,184.8h0M543.2,196.2h0M545.6,198.5h0M554.1,192.9h0M567.0,199.7h0M546.6,197.7h0M535.8,195.9h0M556.0,189.8h0M542.8,198.8h0M550.5,193.3h0M557.8,197.1h0M556.1,197.8h0M559.9,192.8h0M559.8,183.2h0M546.8,197.4h0M542.4,198.3h0M559.2,198.1h0M557.0,187.0h0M550.7,189.0h0M564.3,184.8h0M546.2,198.3h0M550.4,188.9h0M557.8,198.5h0M545.9,198.8h0M548.1,197.3h0M553.0,193.7h0M565.2,199.5h0M563.9,189.4h0M554.8,196.0h0M554.3,197.3h0M551.6,194.8h0M558.6,190.5h0M542.6,196.3h0M549.5,191.6h0M559.8,198.8h0M544.3,195.6h0M545.5,194.3h0M551.7,188.1h0M551.9,198.2h0M554.1,195.4h0M555.8,199.3h0M555.3,195.9h0M547.5,197.8h0M545.9,195.7h0M544.6,199.0h0M547.8,195.2h0M561.3,190.3h0M542.8,200.2h0M553.1,196.1h0M551.7,196.6h0M551.8,194.9h0M566.2,190.8h0M553.6,198.4h0M550.5,193.0h0M557.0,196.3h0M561.1,182.3h0M556.1,191.2h0M544.4,197.1h0M552.7,198.8h0M558.1,198.9h0M551.7,195.1h0M553.9,195.0h0M546.2,195.5h0M553.7,193.9h0M545.5,195.3h0M548.8,194.0h0M541.3,197.0h0M541.5,200.2h0M543.1,198.5h0M545.9,194.7h0M547.4,192.5h0M557.9,197.2h0M543.7,197.6h0M560.1,199.9h0M549.5,197.9h0M552.6,190.6h0M536.6,191.2h0M556.2,197.9h0M555.9,198.5h0M548.5,195.3h0M559.0,199.5h0M556.1,193.2h0M555.3,195.2h0M551.4,197.7h0M552.5,194.3h0M539.1,199.6h0M552.6,198.6h0M550.0,197.4h0M547.1,195.3h0M559.1,197.2h0M547.3,194.1h0M535.7,195.7h0M554.2,192.5h0M556.3,197.8h0M551.0,196.2h0M561.1,189.0h0M541.8,200.2h0M554.1,192.2h0M553.3,193.1h0M556.0,189.7h0M546.1,188.2h0M542.2,197.5h0M549.9,197.1h0M537.1,193.7h0M536.9,197.0h0M553.8,196.4h0M554.8,192.8h0M538.8,197.7h0M553.3,194.2h0M530.1,199.1h0M545.4,191.9h0M553.2,197.3h0M550.2,197.4h0M553.9,197.9h0M544.9,197.2h0M552.3,194.6h0M562.6,197.4h0M541.7,200.4h0M547.8,197.8h0M535.6,198.4h0M549.4,195.7h0M547.5,197.8h0M550.9,192.6h0M544.8,196.5h0M546.9,195.5h0M548.1,194.8h0M541.7,199.0h0M551.0,193.1h0M545.9,198.8h0M556.6,197.7h0M541.0,198.8h0M553.9,193.6h0M545.8,195.4h0M552.0,195.9h0M546.9,198.2h0M549.6,197.3h0M556.7,199.8h0M547.3,195.6h0M552.0,197.5h0M555.6,200.1h0M560.8,194.6h0M554.0,197.1h0M540.9,194.9h0M559.2,196.4h0M566.8,183.8h0M553.1,191.3h0M537.7,197.2h0M559.8,177.3h0M545.7,195.6h0M553.4,197.9h0M540.2,199.6h0M536.6,200.0h0M558.5,188.1h0M545.6,196.5h0M547.3,197.4h0M546.5,180.7h0M560.2,197.6h0M543.7,197.8h0M543.5,199.2h0M564.2,196.9h0M564.7,190.4h0M557.4,192.9h0M548.7,188.8h0M547.9,195.2h0M542.1,193.2h0M537.2,197.5h0M547.9,193.9h0M558.9,195.2h0M559.2,197.6h0M560.9,195.1h0M543.4,199.0h0M561.6,197.1h0M558.8,193.7h0M559.6,190.8h0M558.4,196.2h0M540.5,197.0h0M542.5,198.6h0M546.6,197.4h0M542.9,199.9h0M550.8,192.8h0M556.1,199.9h0M547.4,197.3h0M551.3,188.7h0M551.8,193.7h0M543.7,192.6h0M557.1,188.8h0M561.8,189.9h0M545.6,192.1h0M542.9,195.1h0M554.3,198.0h0M559.8,187.3h0M552.2,196.4h0M547.4,195.7h0M567.6,189.3h0M551.3,194.7h0M546.7,197.2h0M546.3,197.4h0M548.3,197.5h0M545.9,194.3h0M556.8,197.8h0M557.7,190.4h0M558.7,186.4h0M547.6,197.7h0M567.0,188.7h0M551.3,191.1h0M555.7,192.7h0M545.9,194.4h0M555.0,193.4h0M544.0,198.5h0M548.3,194.8h0M544.2,199.4h0M559.4,199.9h0M553.9,183.4h0M555.0,191.0h0M552.1,194.4h0M555.1,197.3h0M556.2,197.7h0M552.8,196.6h0M543.2,197.8h0M541.6,199.0h0M555.2,190.7h0M543.5,199.6h0M559.3,193.4h0M556.4,196.1h0M549.1,193.5h0M559.8,195.5h0M550.5,198.0h0M551.2,195.5h0M548.5,191.9h0M556.3,187.8h0M555.1,197.3h0M552.9,198.8h0M549.7,189.2h0M554.3,195.8h0M558.2,197.7h0M551.4,197.3h0M553.0,196.4h0M543.5,198.8h0M562.3,192.7h0M558.1,195.7h0M563.1,196.4h0M557.1,199.1h0M542.8,198.5h0M556.2,199.7h0M561.8,196.3h0M540.6,200.0h0M545.8,198.0h0M547.4,196.4h0M558.5,188.5h0M552.5,190.0h0M546.5,197.5h0M562.0,196.4h0M552.0,195.4h0M547.5,197.5h0M555.4,189.2h0M563.1,193.2h0M561.4,196.0h0M554.6,200.0h0M539.6,199.7h0M550.2,191.5h0M556.3,199.8h0M560.5,195.3h0M555.3,197.4h0M553.4,197.6h0M563.1,193.2h0M555.7,198.9h0M542.7,196.6h0M558.8,198.3h0M553.7,193.2h0M543.0,198.8h0M551.1,191.2h0M541.2,190.2h0M545.6,197.6h0M553.2,196.6h0M540.5,196.2h0M555.0,199.8h0M547.4,191.7h0M561.4,198.5h0M538.6,197.7h0M557.7,178.0h0M557.8,199.5h0M555.9,192.8h0M551.9,195.4h0M551.6,198.1h0M553.6,197.9h0M544.2,198.8h0M548.8,193.1h0M547.7,198.1h0M553.7,192.6h0M541.9,200.3h0M547.8,197.2h0M555.9,198.7h0M561.6,185.9h0M533.8,195.6h0" fill="none" stroke="#f6a6ac" stroke-width="0.9" stroke-linecap="round" stroke-opacity="0.5"/>
<path d="M537.1,242.2h0M528.3,252.3h0M520.7,257.4h0M518.9,242.9h0M529.1,236.7h0M527.5,239.2h0M529.4,238.7h0M519.5,234.3h0M526.7,248.8h0M525.7,240.0h0M534.7,235.8h0M508.3,241.1h0M547.2,234.3h0M536.0,239.5h0M534.9,236.3h0M512.9,244.3h0M543.0,234.5h0M539.6,234.1h0M522.5,234.5h0M536.6,234.8h0M520.4,235.2h0M533.3,235.3h0M527.5,236.9h0M514.9,242.8h0M544.2,233.7h0M535.7,234.7h0M522.9,236.0h0M529.0,238.0h0M530.5,236.0h0M526.4,251.2h0M522.4,244.4h0M523.9,235.8h0M525.3,236.6h0M543.7,234.9h0M526.1,234.4h0M533.2,236.7h0M538.3,234.2h0M517.2,238.4h0M534.7,235.6h0M527.5,242.6h0M523.4,234.9h0M527.9,235.9h0M534.6,237.2h0M536.1,247.6h0M540.0,240.1h0M528.7,237.1h0M536.0,234.2h0M525.9,250.8h0M543.2,232.8h0M515.7,239.3h0M528.8,244.1h0M542.7,242.8h0M523.5,234.2h0M523.8,250.5h0M534.9,236.5h0M521.4,232.6h0M526.4,241.5h0M536.9,235.4h0M525.8,236.4h0M532.7,235.5h0M531.2,236.0h0M542.0,235.4h0M540.3,235.4h0M522.6,234.2h0M537.9,232.9h0M511.5,253.0h0M534.8,238.2h0M518.9,239.1h0M540.3,233.0h0M527.0,235.6h0M523.3,233.1h0M526.8,236.6h0M528.0,235.9h0M526.4,235.9h0M521.0,237.7h0M532.2,236.8h0M525.5,238.9h0M532.5,235.9h0M533.3,235.9h0M537.2,239.4h0M524.8,241.2h0M532.1,241.0h0M520.1,250.4h0M535.3,236.4h0M519.9,233.2h0M527.8,235.5h0M519.5,233.8h0M541.1,233.0h0M511.7,241.5h0M527.1,241.3h0M527.1,236.3h0M525.7,237.0h0M538.3,233.7h0M522.3,232.5h0M523.3,235.3h0M515.1,259.2h0M525.6,233.8h0M528.8,241.9h0M528.7,239.9h0M530.1,243.2h0M527.7,237.0h0M522.4,242.4h0M539.1,238.7h0M533.2,236.1h0M515.9,246.4h0M528.9,237.1h0M527.4,235.6h0M527.9,240.8h0M522.9,235.0h0M542.2,236.1h0M510.3,241.9h0M524.9,234.6h0M523.4,237.6h0M528.3,237.6h0M521.4,232.7h0M522.7,233.5h0M524.7,237.9h0M525.2,242.9h0M519.1,242.2h0M526.9,236.9h0M523.7,240.9h0M522.4,235.2h0M533.5,240.2h0M526.8,239.6h0M543.9,233.3h0M528.8,236.8h0M524.8,235.0h0M534.8,235.0h0M538.9,232.6h0M529.2,238.6h0M539.6,232.9h0M524.9,233.2h0M532.9,239.9h0M524.8,236.7h0M538.3,233.8h0M552.1,232.4h0M537.6,234.3h0M521.8,234.4h0M526.9,239.5h0M539.8,236.9h0M519.5,236.6h0M548.7,239.6h0M538.2,234.3h0M527.4,238.3h0M529.5,236.7h0M541.9,236.7h0M537.1,241.6h0M525.5,234.2h0M529.4,241.8h0M523.7,234.3h0M539.1,252.9h0M522.4,234.0h0M527.4,235.2h0M518.0,245.9h0M534.0,235.7h0M519.8,233.9h0M533.8,240.1h0M529.2,237.5h0M520.0,239.1h0M521.2,241.7h0M529.1,236.4h0M534.3,235.0h0M523.8,233.8h0M528.7,238.8h0M535.8,238.1h0M535.6,239.5h0M525.5,234.6h0M521.3,234.7h0M537.2,234.1h0M528.2,237.6h0M539.4,233.1h0M525.3,234.3h0M536.7,234.7h0M528.8,236.4h0M526.7,240.6h0M529.6,240.5h0M529.0,239.4h0M525.4,236.9h0M527.0,238.3h0M526.5,236.1h0M524.7,244.4h0M534.5,236.8h0M535.2,236.6h0M537.2,234.5h0M525.7,234.6h0M531.5,242.3h0M537.7,233.7h0M529.0,246.6h0M529.3,239.0h0M538.1,235.7h0M526.7,236.6h0M547.4,233.2h0M524.0,236.0h0M536.2,238.5h0M520.3,243.5h0M535.8,235.6h0M525.3,237.4h0M527.5,236.0h0M527.5,240.1h0M527.5,238.8h0M531.8,242.6h0M526.1,242.6h0M531.5,236.1h0M531.7,236.6h0M532.8,236.7h0M520.0,233.0h0M530.0,239.7h0M527.9,235.8h0M533.2,235.2h0M514.0,244.1h0M510.4,248.6h0M525.9,239.3h0M541.2,232.9h0M519.8,232.7h0M526.0,243.5h0M527.9,238.2h0M541.8,242.8h0M533.1,236.7h0M522.5,233.2h0M534.6,238.1h0M528.2,239.0h0M518.1,233.0h0M514.1,250.2h0M521.6,234.3h0M520.1,251.8h0M536.8,236.1h0M517.2,239.6h0M540.0,235.2h0M532.9,239.1h0M523.5,233.4h0M525.7,240.4h0M533.4,241.6h0M519.0,233.2h0M536.8,239.6h0M527.2,235.8h0M532.7,235.9h0M531.8,238.4h0M528.8,237.5h0M524.0,240.3h0M527.5,237.7h0M535.5,234.4h0M516.5,239.7h0M526.8,234.9h0M542.9,237.1h0M535.5,234.5h0M531.4,238.8h0M529.8,238.0h0M542.4,236.2h0M521.1,233.4h0M529.0,236.4h0M541.3,235.7h0M540.4,236.2h0M532.1,236.6h0M535.6,236.3h0M523.2,233.8h0M522.5,239.9h0M538.3,233.4h0M534.4,238.7h0M529.8,238.3h0M533.8,245.1h0M537.1,234.9h0M531.1,236.1h0M520.1,240.4h0M536.5,235.9h0M530.4,237.6h0M512.6,232.6h0M513.8,236.2h0M523.1,242.2h0M523.3,238.2h0M533.5,237.2h0M523.4,234.1h0M528.8,240.9h0M531.5,244.4h0M539.7,234.1h0M541.2,236.8h0M537.0,238.6h0M531.0,238.6h0M524.5,248.0h0M518.2,238.1h0M546.3,233.6h0M525.8,240.1h0M520.8,235.8h0M522.8,238.4h0M526.2,246.5h0M525.8,236.4h0M550.8,235.0h0M525.7,234.6h0M523.5,235.4h0M515.0,249.1h0M524.8,232.7h0M531.0,236.0h0M538.7,234.8h0M522.7,236.2h0M540.5,236.4h0M532.0,237.0h0M535.8,235.7h0M523.8,238.2h0M535.0,236.1h0M523.4,249.4h0M538.7,236.0h0M524.3,235.2h0M525.9,236.8h0M536.2,235.6h0M531.6,238.1h0M518.7,233.4h0M537.2,246.3h0M537.2,238.5h0M522.4,242.9h0M515.6,233.9h0M533.0,237.9h0M512.3,247.6h0M502.0,245.2h0M505.5,248.5h0M535.0,241.0h0M537.4,235.8h0M530.6,238.0h0M517.0,246.9h0M518.1,234.4h0M520.3,234.7h0M524.6,236.3h0M517.5,248.4h0M538.5,235.4h0M529.7,240.6h0M519.2,232.7h0M518.4,238.1h0M528.3,237.3h0M536.2,236.1h0M525.8,238.9h0M521.0,237.5h0M536.6,236.5h0M537.8,249.0h0M527.2,236.2h0M528.0,239.7h0M538.9,232.5h0M538.2,236.8h0M534.0,238.8h0M527.8,237.9h0M530.8,236.8h0M525.7,242.9h0M518.5,244.4h0M533.3,241.3h0M546.9,235.8h0M505.3,250.1h0M541.7,233.4h0M528.5,250.5h0M519.3,233.9h0M529.9,238.5h0M537.7,235.7h0M527.0,238.8h0M532.2,236.4h0M535.2,238.4h0M536.8,233.9h0M535.8,235.8h0M517.9,237.6h0M539.2,236.4h0M537.3,233.9h0M530.7,242.6h0M526.0,236.2h0M535.6,234.7h0M529.0,237.7h0M529.0,237.3h0M527.7,237.5h0M527.6,244.8h0M528.2,239.2h0M529.4,244.4h0M525.5,239.0h0M545.4,235.4h0M527.1,236.7h0M536.6,235.8h0M524.5,233.3h0M539.4,235.4h0M543.8,235.3h0M537.9,233.6h0M529.7,235.9h0M527.2,236.4h0M528.4,238.0h0M530.2,237.2h0M536.3,233.9h0M530.9,236.1h0M538.6,235.7h0M525.6,236.7h0M531.7,239.2h0M520.8,250.1h0M538.1,233.6h0M538.0,233.1h0M530.5,240.4h0M523.0,237.5h0M528.1,236.9h0M527.4,236.0h0M519.0,237.8h0M523.4,233.3h0M527.9,237.2h0M519.2,236.5h0M531.4,236.2h0M544.5,233.6h0M541.5,235.0h0M524.8,238.1h0M520.0,235.7h0M517.8,238.4h0M535.3,237.7h0M542.7,233.9h0M531.1,237.4h0M536.1,237.2h0M523.3,235.3h0M532.8,240.6h0M532.8,235.6h0M524.6,236.8h0M522.4,249.3h0M539.7,234.2h0M526.2,245.4h0M531.0,239.2h0M533.4,240.4h0" fill="none" stroke="#f6a6ac" stroke-width="0.9" stroke-linecap="round" stroke-opacity="0.5"/>
<rect x="477.50" y="168.7" width="127.80" height="95.70" fill="none" stroke="#1a1a1a" stroke-width="0.9"/>
<path d="M481.72,264.4 v-1.4 M481.72,168.7 v1.4 M486.28,264.4 v-1.4 M486.28,168.7 v1.4 M490.84,264.4 v-1.4 M490.84,168.7 v1.4 M495.40,264.4 v-2.4 M495.40,168.7 v2.4 M499.96,264.4 v-1.4 M499.96,168.7 v1.4 M504.52,264.4 v-1.4 M504.52,168.7 v1.4 M509.08,264.4 v-1.4 M509.08,168.7 v1.4 M513.64,264.4 v-1.4 M513.64,168.7 v1.4 M518.20,264.4 v-2.4 M518.20,168.7 v2.4 M522.76,264.4 v-1.4 M522.76,168.7 v1.4 M527.32,264.4 v-1.4 M527.32,168.7 v1.4 M531.88,264.4 v-1.4 M531.88,168.7 v1.4 M536.44,264.4 v-1.4 M536.44,168.7 v1.4 M541.00,264.4 v-2.4 M541.00,168.7 v2.4 M545.56,264.4 v-1.4 M545.56,168.7 v1.4 M550.12,264.4 v-1.4 M550.12,168.7 v1.4 M554.68,264.4 v-1.4 M554.68,168.7 v1.4 M559.24,264.4 v-1.4 M559.24,168.7 v1.4 M563.80,264.4 v-2.4 M563.80,168.7 v2.4 M568.36,264.4 v-1.4 M568.36,168.7 v1.4 M572.92,264.4 v-1.4 M572.92,168.7 v1.4 M577.48,264.4 v-1.4 M577.48,168.7 v1.4 M582.04,264.4 v-1.4 M582.04,168.7 v1.4 M586.60,264.4 v-2.4 M586.60,168.7 v2.4 M591.16,264.4 v-1.4 M591.16,168.7 v1.4 M595.72,264.4 v-1.4 M595.72,168.7 v1.4 M600.28,264.4 v-1.4 M600.28,168.7 v1.4 M477.50,261.12 h1.4 M605.30,261.12 h-1.4 M477.50,257.10 h1.4 M605.30,257.10 h-1.4 M477.50,253.08 h1.4 M605.30,253.08 h-1.4 M477.50,249.06 h2.4 M605.30,249.06 h-2.4 M477.50,245.04 h1.4 M605.30,245.04 h-1.4 M477.50,241.02 h1.4 M605.30,241.02 h-1.4 M477.50,237.00 h1.4 M605.30,237.00 h-1.4 M477.50,232.98 h2.4 M605.30,232.98 h-2.4 M477.50,228.96 h1.4 M605.30,228.96 h-1.4 M477.50,224.94 h1.4 M605.30,224.94 h-1.4 M477.50,220.92 h1.4 M605.30,220.92 h-1.4 M477.50,216.90 h2.4 M605.30,216.90 h-2.4 M477.50,212.88 h1.4 M605.30,212.88 h-1.4 M477.50,208.86 h1.4 M605.30,208.86 h-1.4 M477.50,204.84 h1.4 M605.30,204.84 h-1.4 M477.50,200.82 h2.4 M605.30,200.82 h-2.4 M477.50,196.80 h1.4 M605.30,196.80 h-1.4 M477.50,192.78 h1.4 M605.30,192.78 h-1.4 M477.50,188.76 h1.4 M605.30,188.76 h-1.4 M477.50,184.74 h2.4 M605.30,184.74 h-2.4 M477.50,180.72 h1.4 M605.30,180.72 h-1.4 M477.50,176.70 h1.4 M605.30,176.70 h-1.4 M477.50,172.68 h1.4 M605.30,172.68 h-1.4" stroke="#111" stroke-width="0.6" fill="none"/>
<text x="494.10" y="274.00" font-size="9.0" stroke="#000" stroke-width="0.12" text-anchor="middle" fill="#000" >−10</text>
<text x="516.90" y="274.00" font-size="9.0" stroke="#000" stroke-width="0.12" text-anchor="middle" fill="#000" >−5</text>
<text x="541.00" y="274.00" font-size="9.0" stroke="#000" stroke-width="0.12" text-anchor="middle" fill="#000" >0</text>
<text x="563.80" y="274.00" font-size="9.0" stroke="#000" stroke-width="0.12" text-anchor="middle" fill="#000" >5</text>
<text x="586.60" y="274.00" font-size="9.0" stroke="#000" stroke-width="0.12" text-anchor="middle" fill="#000" >10</text>
<text x="476.00" y="268.34" font-size="9.0" stroke="#000" stroke-width="0.12" text-anchor="end" fill="#000" >−6</text>
<text x="476.00" y="252.26" font-size="9.0" stroke="#000" stroke-width="0.12" text-anchor="end" fill="#000" >−4</text>
<text x="476.00" y="236.18" font-size="9.0" stroke="#000" stroke-width="0.12" text-anchor="end" fill="#000" >−2</text>
<text x="476.00" y="220.10" font-size="9.0" stroke="#000" stroke-width="0.12" text-anchor="end" fill="#000" >0</text>
<text x="476.00" y="204.02" font-size="9.0" stroke="#000" stroke-width="0.12" text-anchor="end" fill="#000" >2</text>
<text x="476.00" y="187.94" font-size="9.0" stroke="#000" stroke-width="0.12" text-anchor="end" fill="#000" >4</text>
<text x="476.00" y="171.86" font-size="9.0" stroke="#000" stroke-width="0.12" text-anchor="end" fill="#000" >6</text>
<text x="541.60" y="160.60" font-size="10.9" stroke="#000" stroke-width="0.12" text-anchor="middle" fill="#000" >Non-Gaussian Filtering</text>
<text x="541.00" y="285.8" font-size="10.9" text-anchor="middle" stroke="#000" stroke-width="0.12">x<tspan font-size="6.4" dy="3.1">a</tspan><tspan dy="-3.1"> (SNU)</tspan></text>
<text transform="translate(462.50,216.60) rotate(-90)" font-size="10.9" text-anchor="middle" stroke="#000" stroke-width="0.12">x<tspan font-size="6.4" dy="3.1">b</tspan><tspan dy="-3.1"> (SNU)</tspan></text>
<path d="M48.10,367.50 L48.10,367.45 L49.26,367.45 L49.26,367.43 L50.42,367.43 L50.42,367.40 L51.58,367.40 L51.58,367.36 L52.74,367.36 L52.74,367.31 L53.90,367.31 L53.90,367.23 L55.06,367.23 L55.06,367.13 L56.22,367.13 L56.22,367.00 L57.38,367.00 L57.38,366.83 L58.54,366.83 L58.54,366.60 L59.70,366.60 L59.70,366.31 L60.86,366.31 L60.86,365.94 L62.02,365.94 L62.02,365.47 L63.18,365.47 L63.18,364.89 L64.34,364.89 L64.34,364.17 L65.50,364.17 L65.50,363.30 L66.66,363.30 L66.66,362.24 L67.82,362.24 L67.82,360.98 L68.98,360.98 L68.98,359.49 L70.14,359.49 L70.14,357.76 L71.30,357.76 L71.30,355.76 L72.46,355.76 L72.46,353.48 L73.62,353.48 L73.62,350.91 L74.78,350.91 L74.78,348.05 L75.94,348.05 L75.94,344.91 L77.10,344.91 L77.10,341.51 L78.26,341.51 L78.26,337.88 L79.42,337.88 L79.42,334.06 L80.58,334.06 L80.58,330.09 L81.74,330.09 L81.74,326.04 L82.90,326.04 L82.90,321.98 L84.06,321.98 L84.06,317.98 L85.22,317.98 L85.22,314.14 L86.38,314.14 L86.38,310.53 L87.54,310.53 L87.54,307.25 L88.70,307.25 L88.70,304.37 L89.86,304.37 L89.86,301.96 L91.02,301.96 L91.02,300.10 L92.18,300.10 L92.18,298.83 L93.34,298.83 L93.34,298.18 L94.50,298.18 L94.50,298.18 L95.66,298.18 L95.66,298.83 L96.82,298.83 L96.82,300.10 L97.98,300.10 L97.98,301.96 L99.14,301.96 L99.14,304.37 L100.30,304.37 L100.30,307.25 L101.46,307.25 L101.46,310.53 L102.62,310.53 L102.62,314.14 L103.78,314.14 L103.78,317.98 L104.94,317.98 L104.94,321.98 L106.10,321.98 L106.10,326.04 L107.26,326.04 L107.26,330.09 L108.42,330.09 L108.42,334.06 L109.58,334.06 L109.58,337.88 L110.74,337.88 L110.74,341.51 L111.90,341.51 L111.90,344.91 L113.06,344.91 L113.06,348.05 L114.22,348.05 L114.22,350.91 L115.38,350.91 L115.38,353.48 L116.54,353.48 L116.54,355.76 L117.70,355.76 L117.70,357.76 L118.86,357.76 L118.86,359.49 L120.02,359.49 L120.02,360.98 L121.18,360.98 L121.18,362.24 L122.34,362.24 L122.34,363.30 L123.50,363.30 L123.50,364.17 L124.66,364.17 L124.66,364.89 L125.82,364.89 L125.82,365.47 L126.98,365.47 L126.98,365.94 L128.14,365.94 L128.14,366.31 L129.30,366.31 L129.30,366.60 L130.46,366.60 L130.46,366.83 L131.62,366.83 L131.62,367.00 L132.78,367.00 L132.78,367.13 L133.94,367.13 L133.94,367.23 L135.10,367.23 L135.10,367.31 L136.26,367.31 L136.26,367.36 L137.42,367.36 L137.42,367.40 L138.58,367.40 L138.58,367.43 L139.74,367.43 L139.74,367.45 L140.90,367.45 L140.90,367.50 Z" fill="#ffc38a"/>
<path d="M223.80,193.55 L222.74,193.55 L222.74,196.45 L221.22,196.45 L221.22,199.36 L218.17,199.36 L218.17,202.26 L212.81,202.26 L212.81,205.17 L204.61,205.17 L204.61,208.08 L193.81,208.08 L193.81,210.98 L181.89,210.98 L181.89,213.89 L171.41,213.89 L171.41,216.79 L165.22,216.79 L165.22,219.70 L165.22,219.70 L165.22,222.61 L171.41,222.61 L171.41,225.51 L181.89,225.51 L181.89,228.42 L193.81,228.42 L193.81,231.32 L204.61,231.32 L204.61,234.23 L212.81,234.23 L212.81,237.14 L218.17,237.14 L218.17,240.04 L221.22,240.04 L221.22,242.95 L222.74,242.95 L222.74,245.85 L223.80,245.85 Z" fill="#ffc38a"/>
<path d="M141.5,177.8 H223.5 M141.5,177.8 V367.5 M47.5,256.5 H223.5 M47.5,256.5 V367.5" fill="none" stroke="#707070" stroke-width="0.9" stroke-dasharray="4.3,2.7"/>
<path d="M299.08,367.50 L299.08,367.15 L300.24,367.15 L300.24,366.85 L301.40,366.85 L301.40,366.34 L302.56,366.34 L302.56,365.51 L303.72,365.51 L303.72,364.21 L304.88,364.21 L304.88,362.26 L306.04,362.26 L306.04,359.49 L307.20,359.49 L307.20,355.70 L308.36,355.70 L308.36,350.80 L309.52,350.80 L309.52,344.74 L310.68,344.74 L310.68,337.67 L311.84,337.67 L311.84,329.88 L313.00,329.88 L313.00,321.86 L314.16,321.86 L314.16,314.23 L315.32,314.23 L315.32,307.68 L316.48,307.68 L316.48,302.87 L317.64,302.87 L317.64,300.33 L318.80,300.33 L318.80,300.33 L319.96,300.33 L319.96,302.87 L321.12,302.87 L321.12,307.68 L322.28,307.68 L322.28,314.23 L323.44,314.23 L323.44,321.86 L324.60,321.86 L324.60,329.88 L325.76,329.88 L325.76,337.67 L326.92,337.67 L326.92,344.74 L328.08,344.74 L328.08,350.80 L329.24,350.80 L329.24,355.70 L330.40,355.70 L330.40,359.49 L331.56,359.49 L331.56,362.26 L332.72,362.26 L332.72,364.21 L333.88,364.21 L333.88,365.51 L335.04,365.51 L335.04,366.34 L336.20,366.34 L336.20,366.85 L337.36,366.85 L337.36,367.15 L338.52,367.15 L338.52,367.50 Z" fill="#9c92f6"/>
<path d="M272.00,367.50 L272.00,367.47 L274.10,367.47 L274.10,367.45 L276.20,367.45 L276.20,367.40 L278.30,367.40 L278.30,367.31 L280.40,367.31 L280.40,367.17 L282.50,367.17 L282.50,366.91 L284.60,366.91 L284.60,366.51 L286.70,366.51 L286.70,365.86 L288.80,365.86 L288.80,364.89 L290.90,364.89 L290.90,363.46 L293.00,363.46 L293.00,361.44 L295.10,361.44 L295.10,358.70 L297.20,358.70 L297.20,355.10 L299.30,355.10 L299.30,350.57 L301.40,350.57 L301.40,345.10 L303.50,345.10 L303.50,338.76 L305.60,338.76 L305.60,331.76 L307.70,331.76 L307.70,324.42 L309.80,324.42 L309.80,317.16 L311.90,317.16 L311.90,310.48 L314.00,310.48 L314.00,304.90 L316.10,304.90 L316.10,300.88 L318.20,300.88 L318.20,298.77 L320.30,298.77 L320.30,298.77 L322.40,298.77 L322.40,300.88 L324.50,300.88 L324.50,304.90 L326.60,304.90 L326.60,310.48 L328.70,310.48 L328.70,317.16 L330.80,317.16 L330.80,324.42 L332.90,324.42 L332.90,331.76 L335.00,331.76 L335.00,338.76 L337.10,338.76 L337.10,345.10 L339.20,345.10 L339.20,350.57 L341.30,350.57 L341.30,355.10 L343.40,355.10 L343.40,358.70 L345.50,358.70 L345.50,361.44 L347.60,361.44 L347.60,363.46 L349.70,363.46 L349.70,364.89 L351.80,364.89 L351.80,365.86 L353.90,365.86 L353.90,366.51 L356.00,366.51 L356.00,366.91 L358.10,366.91 L358.10,367.17 L360.20,367.17 L360.20,367.31 L362.30,367.31 L362.30,367.40 L364.40,367.40 L364.40,367.45 L366.50,367.45 L366.50,367.47 L368.60,367.47 L368.60,367.50" fill="none" stroke="#ffc38a" stroke-width="0.9"/>
<path d="M446.70,197.60 L446.24,197.60 L446.24,198.40 L446.09,198.40 L446.09,199.20 L445.90,199.20 L445.90,200.00 L445.65,200.00 L445.65,200.80 L445.35,200.80 L445.35,201.60 L444.99,201.60 L444.99,202.40 L444.55,202.40 L444.55,203.20 L444.03,203.20 L444.03,204.00 L443.42,204.00 L443.42,204.80 L442.73,204.80 L442.73,205.60 L441.95,205.60 L441.95,206.40 L441.08,206.40 L441.08,207.20 L440.13,207.20 L440.13,208.00 L439.11,208.00 L439.11,208.80 L438.03,208.80 L438.03,209.60 L436.93,209.60 L436.93,210.40 L435.81,210.40 L435.81,211.20 L434.72,211.20 L434.72,212.00 L433.66,212.00 L433.66,212.80 L432.69,212.80 L432.69,213.60 L431.82,213.60 L431.82,214.40 L431.09,214.40 L431.09,215.20 L430.52,215.20 L430.52,216.00 L430.13,216.00 L430.13,216.80 L429.93,216.80 L429.93,217.60 L429.93,217.60 L429.93,218.40 L430.13,218.40 L430.13,219.20 L430.52,219.20 L430.52,220.00 L431.09,220.00 L431.09,220.80 L431.82,220.80 L431.82,221.60 L432.69,221.60 L432.69,222.40 L433.66,222.40 L433.66,223.20 L434.72,223.20 L434.72,224.00 L435.81,224.00 L435.81,224.80 L436.93,224.80 L436.93,225.60 L438.03,225.60 L438.03,226.40 L439.11,226.40 L439.11,227.20 L440.13,227.20 L440.13,228.00 L441.08,228.00 L441.08,228.80 L441.95,228.80 L441.95,229.60 L442.73,229.60 L442.73,230.40 L443.42,230.40 L443.42,231.20 L444.03,231.20 L444.03,232.00 L444.55,232.00 L444.55,232.80 L444.99,232.80 L444.99,233.60 L445.35,233.60 L445.35,234.40 L445.65,234.40 L445.65,235.20 L445.90,235.20 L445.90,236.00 L446.09,236.00 L446.09,236.80 L446.24,236.80 L446.24,237.60 L446.70,237.60 Z" fill="#9c92f6"/>
<path d="M446.70,174.50 L446.70,174.50 L446.70,177.50 L446.69,177.50 L446.69,180.50 L446.68,180.50 L446.68,183.50 L446.61,183.50 L446.61,186.50 L446.42,186.50 L446.42,189.50 L445.88,189.50 L445.88,192.50 L444.59,192.50 L444.59,195.50 L441.85,195.50 L441.85,198.50 L436.80,198.50 L436.80,201.50 L428.76,201.50 L428.76,204.50 L417.83,204.50 L417.83,207.50 L405.46,207.50 L405.46,210.50 L394.39,210.50 L394.39,213.50 L387.78,213.50 L387.78,216.50 L387.78,216.50 L387.78,219.50 L394.39,219.50 L394.39,222.50 L405.46,222.50 L405.46,225.50 L417.83,225.50 L417.83,228.50 L428.76,228.50 L428.76,231.50 L436.80,231.50 L436.80,234.50 L441.85,234.50 L441.85,237.50 L444.59,237.50 L444.59,240.50 L445.88,240.50 L445.88,243.50 L446.42,243.50 L446.42,246.50 L446.61,246.50 L446.61,249.50 L446.68,249.50 L446.68,252.50 L446.69,252.50 L446.69,255.50 L446.70,255.50 L446.70,258.50 L446.70,258.50" fill="none" stroke="#ffc38a" stroke-width="0.9"/>
<path d="M341.4,187.8 H446.7 M341.4,187.8 V367.5 M293.9,250.6 H446.7 M293.9,250.6 V367.5" fill="none" stroke="#707070" stroke-width="0.9" stroke-dasharray="4.3,2.7"/>
<path d="M518.40,367.50 L518.40,367.05 L519.56,367.05 L519.56,366.66 L520.72,366.66 L520.72,365.87 L521.88,365.87 L521.88,364.84 L523.04,364.84 L523.04,362.78 L524.20,362.78 L524.20,360.37 L525.36,360.37 L525.36,356.54 L526.52,356.54 L526.52,351.63 L527.68,351.63 L527.68,346.69 L528.84,346.69 L528.84,338.82 L530.00,338.82 L530.00,334.37 L531.16,334.37 L531.16,325.91 L532.32,325.91 L532.32,322.76 L533.48,322.76 L533.48,318.53 L534.64,318.53 L534.64,316.31 L535.80,316.31 L535.80,318.60 L536.96,318.60 L536.96,317.13 L538.12,317.13 L538.12,322.55 L539.28,322.55 L539.28,321.74 L540.44,321.74 L540.44,324.83 L541.60,324.83 L541.60,324.24 L542.76,324.24 L542.76,322.51 L543.92,322.51 L543.92,322.78 L545.08,322.78 L545.08,318.19 L546.24,318.19 L546.24,320.55 L547.40,320.55 L547.40,318.09 L548.56,318.09 L548.56,322.20 L549.72,322.20 L549.72,325.53 L550.88,325.53 L550.88,330.11 L552.04,330.11 L552.04,337.70 L553.20,337.70 L553.20,342.27 L554.36,342.27 L554.36,349.65 L555.52,349.65 L555.52,353.85 L556.68,353.85 L556.68,358.49 L557.84,358.49 L557.84,361.56 L559.00,361.56 L559.00,363.73 L560.16,363.73 L560.16,365.38 L561.32,365.38 L561.32,366.23 L562.48,366.23 L562.48,366.86 L563.64,366.86 L563.64,367.16 L564.80,367.16 L564.80,367.50 Z" fill="#faafb4"/>
<path d="M528.8,299.0 L528.8,323.2 L527.7,323.2 L527.7,346.7 L525.5,346.7 L525.5,356.4 L523.8,356.4 L523.8,363.4 L522.1,363.4 L522.1,365.5 L520.5,365.5 L520.5,366.7 L518.9,366.7 L518.9,367.5" fill="none" stroke="#a79bf7" stroke-width="0.9"/>
<path d="M554.7,299.0 L554.7,323.2 L556.0,323.2 L556.0,348.9 L558.1,348.9 L558.1,360.7 L560.2,360.7 L560.2,365.0 L562.0,365.0 L562.0,366.7 L563.9,366.7 L563.9,367.5" fill="none" stroke="#a79bf7" stroke-width="0.9"/>
<path d="M517.4,299.0 L517.4,335.0 L516.1,335.0 L516.1,344.6 L513.6,344.6 L513.6,354.2 L511.4,354.2 L511.4,359.6 L508.2,359.6 L508.2,362.5 L505.0,362.5 L505.0,364.5 L500.0,364.5 L500.0,366.0 L494.3,366.0 L494.3,367.2 L489.0,367.2" fill="none" stroke="#ffc38a" stroke-width="0.9"/>
<path d="M566.4,299.0 L566.4,338.2 L568.2,338.2 L568.2,348.9 L570.3,348.9 L570.3,357.5 L572.4,357.5 L572.4,361.5 L575.0,361.5 L575.0,364.0 L578.0,364.0 L578.0,365.5 L582.0,365.5 L582.0,366.5 L586.4,366.5 L586.4,367.2 L592.0,367.2" fill="none" stroke="#ffc38a" stroke-width="0.9"/>
<path d="M681.0,202.3 L635.5,202.3 L635.5,200.2 L635.0,200.2 L646.3,200.2 L646.3,198.8 L656.4,198.8 L656.4,197.1 L663.5,197.1 L663.5,195.7 L670.0,195.7 L670.0,193.7 L673.0,193.7 L673.0,192.3 L676.0,192.3 L676.0,190.5 L678.0,190.5 L678.0,188.7 L679.4,188.7 L679.4,186.5 L680.4,186.5 L681.0,186.5 Z" fill="#faafb4"/>
<path d="M681.0,234.1 L633.0,234.1 L633.0,234.0 L645.9,234.0 L645.9,235.7 L657.4,235.7 L657.4,237.6 L664.1,237.6 L664.1,239.4 L668.9,239.4 L668.9,241.0 L672.9,241.0 L672.9,242.5 L676.0,242.5 L676.0,244.2 L678.0,244.2 L678.0,246.0 L679.4,246.0 L679.4,248.0 L680.4,248.0 L681.0,248.0 Z" fill="#faafb4"/>
<path d="M614.7,203.3 L619.5,203.3 L619.5,201.3 L635.0,201.3 L635.0,199.7 L646.3,199.7 L646.3,198.3 L656.4,198.3 L656.4,196.6 L663.5,196.6 L663.5,195.2 L670.0,195.2 L670.0,193.2 L673.0,193.2 L673.0,191.8 L676.0,191.8 L676.0,190.0 L678.0,190.0 L678.0,188.2 L679.4,188.2 L679.4,186.0 L680.4,186.0 L680.4,176.0" fill="none" stroke="#a79bf7" stroke-width="0.9"/>
<path d="M614.7,231.4 L619.5,231.4 L619.5,233.1 L633.0,233.1 L633.0,234.5 L645.9,234.5 L645.9,236.2 L657.4,236.2 L657.4,238.1 L664.1,238.1 L664.1,239.9 L668.9,239.9 L668.9,241.5 L672.9,241.5 L672.9,243.0 L676.0,243.0 L676.0,244.7 L678.0,244.7 L678.0,246.5 L679.4,246.5 L679.4,248.5 L680.4,248.5 L680.4,259.5" fill="none" stroke="#a79bf7" stroke-width="0.9"/>
<path d="M613.4,188.4 L642.2,188.4 L642.2,184.4 L664.6,184.4 L664.6,180.3 L674.7,180.3 L674.7,176.5 L678.4,176.5 L678.4,172.5 L679.7,172.5 L679.7,169.2 L680.4,169.2 L680.4,166.6" fill="none" stroke="#ffc38a" stroke-width="0.9"/>
<path d="M613.4,243.5 L641.8,243.5 L641.8,247.3 L664.6,247.3 L664.6,251.4 L674.3,251.4 L674.3,255.5 L678.8,255.5 L678.8,259.5 L679.8,259.5 L679.8,264.3 L680.4,264.3 L680.4,267.8" fill="none" stroke="#ffc38a" stroke-width="0.9"/>
<path d="M564.4,187.8 H680.4 M564.4,187.8 V367.5 M516.9,250.6 H680.4 M516.9,250.6 V367.5" fill="none" stroke="#707070" stroke-width="0.9" stroke-dasharray="4.3,2.7"/>
</svg>
</body></html>
